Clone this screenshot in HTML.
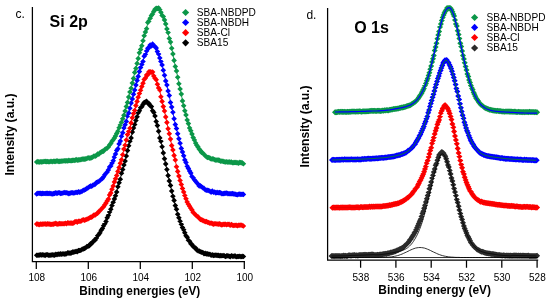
<!DOCTYPE html><html><head><meta charset="utf-8"><title>XPS Si 2p and O 1s</title><style>html,body{margin:0;padding:0;background:#fff}svg{display:block}</style></head><body><svg width="550" height="300" viewBox="0 0 550 300">
<rect width="550" height="300" fill="#fff"/>
<g font-family='"Liberation Sans", Arial, Helvetica, sans-serif' fill="#000">
<path fill="#000000" d="M36.7 252.4l2.8 2.8l-2.8 2.8l-2.8 -2.8zM37.9 252.5l2.8 2.8l-2.8 2.8l-2.8 -2.8zM39.1 252.3l2.8 2.8l-2.8 2.8l-2.8 -2.8zM40.3 252.0l2.8 2.8l-2.8 2.8l-2.8 -2.8zM41.5 252.2l2.8 2.8l-2.8 2.8l-2.8 -2.8zM42.7 252.0l2.8 2.8l-2.8 2.8l-2.8 -2.8zM43.9 252.2l2.8 2.8l-2.8 2.8l-2.8 -2.8zM45.1 252.6l2.8 2.8l-2.8 2.8l-2.8 -2.8zM46.2 252.0l2.8 2.8l-2.8 2.8l-2.8 -2.8zM47.4 252.0l2.8 2.8l-2.8 2.8l-2.8 -2.8zM48.6 252.4l2.8 2.8l-2.8 2.8l-2.8 -2.8zM49.8 252.4l2.8 2.8l-2.8 2.8l-2.8 -2.8zM51.0 252.3l2.8 2.8l-2.8 2.8l-2.8 -2.8zM52.2 251.9l2.8 2.8l-2.8 2.8l-2.8 -2.8zM53.4 252.2l2.8 2.8l-2.8 2.8l-2.8 -2.8zM54.6 252.3l2.8 2.8l-2.8 2.8l-2.8 -2.8zM55.8 251.6l2.8 2.8l-2.8 2.8l-2.8 -2.8zM57.0 251.8l2.8 2.8l-2.8 2.8l-2.8 -2.8zM58.2 251.3l2.8 2.8l-2.8 2.8l-2.8 -2.8zM59.4 251.4l2.8 2.8l-2.8 2.8l-2.8 -2.8zM60.6 251.1l2.8 2.8l-2.8 2.8l-2.8 -2.8zM61.8 251.5l2.8 2.8l-2.8 2.8l-2.8 -2.8zM63.0 251.0l2.8 2.8l-2.8 2.8l-2.8 -2.8zM64.2 251.3l2.8 2.8l-2.8 2.8l-2.8 -2.8zM65.4 251.1l2.8 2.8l-2.8 2.8l-2.8 -2.8zM66.6 250.9l2.8 2.8l-2.8 2.8l-2.8 -2.8zM67.8 249.9l2.8 2.8l-2.8 2.8l-2.8 -2.8zM68.9 250.3l2.8 2.8l-2.8 2.8l-2.8 -2.8zM70.1 250.3l2.8 2.8l-2.8 2.8l-2.8 -2.8zM71.3 250.1l2.8 2.8l-2.8 2.8l-2.8 -2.8zM72.5 249.3l2.8 2.8l-2.8 2.8l-2.8 -2.8zM73.7 249.3l2.8 2.8l-2.8 2.8l-2.8 -2.8zM74.9 248.9l2.8 2.8l-2.8 2.8l-2.8 -2.8zM76.1 248.6l2.8 2.8l-2.8 2.8l-2.8 -2.8zM77.3 248.8l2.8 2.8l-2.8 2.8l-2.8 -2.8zM78.5 247.8l2.8 2.8l-2.8 2.8l-2.8 -2.8zM79.7 247.7l2.8 2.8l-2.8 2.8l-2.8 -2.8zM80.9 247.5l2.8 2.8l-2.8 2.8l-2.8 -2.8zM82.1 246.5l2.8 2.8l-2.8 2.8l-2.8 -2.8zM83.3 246.1l2.8 2.8l-2.8 2.8l-2.8 -2.8zM84.5 245.6l2.8 2.8l-2.8 2.8l-2.8 -2.8zM85.7 244.9l2.8 2.8l-2.8 2.8l-2.8 -2.8zM86.9 243.8l2.8 2.8l-2.8 2.8l-2.8 -2.8zM88.1 243.4l2.8 2.8l-2.8 2.8l-2.8 -2.8zM89.3 243.0l2.8 2.8l-2.8 2.8l-2.8 -2.8zM90.5 241.0l2.8 2.8l-2.8 2.8l-2.8 -2.8zM91.7 240.7l2.8 2.8l-2.8 2.8l-2.8 -2.8zM92.8 239.3l2.8 2.8l-2.8 2.8l-2.8 -2.8zM94.0 237.7l2.8 2.8l-2.8 2.8l-2.8 -2.8zM95.2 237.2l2.8 2.8l-2.8 2.8l-2.8 -2.8zM96.4 235.3l2.8 2.8l-2.8 2.8l-2.8 -2.8zM97.6 232.9l2.8 2.8l-2.8 2.8l-2.8 -2.8zM98.8 231.6l2.8 2.8l-2.8 2.8l-2.8 -2.8zM100.0 229.9l2.8 2.8l-2.8 2.8l-2.8 -2.8zM101.2 227.5l2.8 2.8l-2.8 2.8l-2.8 -2.8zM102.4 225.7l2.8 2.8l-2.8 2.8l-2.8 -2.8zM103.6 223.0l2.8 2.8l-2.8 2.8l-2.8 -2.8zM104.8 220.9l2.8 2.8l-2.8 2.8l-2.8 -2.8zM106.0 218.6l2.8 2.8l-2.8 2.8l-2.8 -2.8zM107.2 215.0l2.8 2.8l-2.8 2.8l-2.8 -2.8zM108.4 212.5l2.8 2.8l-2.8 2.8l-2.8 -2.8zM109.6 209.2l2.8 2.8l-2.8 2.8l-2.8 -2.8zM110.8 206.4l2.8 2.8l-2.8 2.8l-2.8 -2.8zM112.0 202.6l2.8 2.8l-2.8 2.8l-2.8 -2.8zM113.2 199.5l2.8 2.8l-2.8 2.8l-2.8 -2.8zM114.4 196.1l2.8 2.8l-2.8 2.8l-2.8 -2.8zM115.5 193.0l2.8 2.8l-2.8 2.8l-2.8 -2.8zM116.7 189.2l2.8 2.8l-2.8 2.8l-2.8 -2.8zM117.9 183.9l2.8 2.8l-2.8 2.8l-2.8 -2.8zM119.1 180.0l2.8 2.8l-2.8 2.8l-2.8 -2.8zM120.3 176.4l2.8 2.8l-2.8 2.8l-2.8 -2.8zM121.5 170.4l2.8 2.8l-2.8 2.8l-2.8 -2.8zM122.7 166.7l2.8 2.8l-2.8 2.8l-2.8 -2.8zM123.9 162.2l2.8 2.8l-2.8 2.8l-2.8 -2.8zM125.1 158.3l2.8 2.8l-2.8 2.8l-2.8 -2.8zM126.3 153.2l2.8 2.8l-2.8 2.8l-2.8 -2.8zM127.5 147.8l2.8 2.8l-2.8 2.8l-2.8 -2.8zM128.7 143.0l2.8 2.8l-2.8 2.8l-2.8 -2.8zM129.9 138.4l2.8 2.8l-2.8 2.8l-2.8 -2.8zM131.1 135.1l2.8 2.8l-2.8 2.8l-2.8 -2.8zM132.3 129.3l2.8 2.8l-2.8 2.8l-2.8 -2.8zM133.5 125.2l2.8 2.8l-2.8 2.8l-2.8 -2.8zM134.7 121.7l2.8 2.8l-2.8 2.8l-2.8 -2.8zM135.9 117.6l2.8 2.8l-2.8 2.8l-2.8 -2.8zM137.1 114.0l2.8 2.8l-2.8 2.8l-2.8 -2.8zM138.2 110.0l2.8 2.8l-2.8 2.8l-2.8 -2.8zM139.4 107.9l2.8 2.8l-2.8 2.8l-2.8 -2.8zM140.6 104.9l2.8 2.8l-2.8 2.8l-2.8 -2.8zM141.8 103.9l2.8 2.8l-2.8 2.8l-2.8 -2.8zM143.0 101.6l2.8 2.8l-2.8 2.8l-2.8 -2.8zM144.2 99.8l2.8 2.8l-2.8 2.8l-2.8 -2.8zM145.4 99.3l2.8 2.8l-2.8 2.8l-2.8 -2.8zM146.6 98.6l2.8 2.8l-2.8 2.8l-2.8 -2.8zM147.8 100.4l2.8 2.8l-2.8 2.8l-2.8 -2.8zM149.0 100.7l2.8 2.8l-2.8 2.8l-2.8 -2.8zM150.2 102.9l2.8 2.8l-2.8 2.8l-2.8 -2.8zM151.4 103.8l2.8 2.8l-2.8 2.8l-2.8 -2.8zM152.6 107.9l2.8 2.8l-2.8 2.8l-2.8 -2.8zM153.8 109.6l2.8 2.8l-2.8 2.8l-2.8 -2.8zM155.0 113.2l2.8 2.8l-2.8 2.8l-2.8 -2.8zM156.2 118.7l2.8 2.8l-2.8 2.8l-2.8 -2.8zM157.4 122.8l2.8 2.8l-2.8 2.8l-2.8 -2.8zM158.6 128.5l2.8 2.8l-2.8 2.8l-2.8 -2.8zM159.8 135.1l2.8 2.8l-2.8 2.8l-2.8 -2.8zM160.9 138.4l2.8 2.8l-2.8 2.8l-2.8 -2.8zM162.1 144.0l2.8 2.8l-2.8 2.8l-2.8 -2.8zM163.3 150.1l2.8 2.8l-2.8 2.8l-2.8 -2.8zM164.5 155.9l2.8 2.8l-2.8 2.8l-2.8 -2.8zM165.7 161.1l2.8 2.8l-2.8 2.8l-2.8 -2.8zM166.9 166.7l2.8 2.8l-2.8 2.8l-2.8 -2.8zM168.1 172.8l2.8 2.8l-2.8 2.8l-2.8 -2.8zM169.3 178.1l2.8 2.8l-2.8 2.8l-2.8 -2.8zM170.5 182.6l2.8 2.8l-2.8 2.8l-2.8 -2.8zM171.7 188.3l2.8 2.8l-2.8 2.8l-2.8 -2.8zM172.9 193.4l2.8 2.8l-2.8 2.8l-2.8 -2.8zM174.1 197.6l2.8 2.8l-2.8 2.8l-2.8 -2.8zM175.3 202.8l2.8 2.8l-2.8 2.8l-2.8 -2.8zM176.5 206.5l2.8 2.8l-2.8 2.8l-2.8 -2.8zM177.7 211.4l2.8 2.8l-2.8 2.8l-2.8 -2.8zM178.9 214.9l2.8 2.8l-2.8 2.8l-2.8 -2.8zM180.1 218.4l2.8 2.8l-2.8 2.8l-2.8 -2.8zM181.3 221.5l2.8 2.8l-2.8 2.8l-2.8 -2.8zM182.5 224.8l2.8 2.8l-2.8 2.8l-2.8 -2.8zM183.7 227.0l2.8 2.8l-2.8 2.8l-2.8 -2.8zM184.8 230.0l2.8 2.8l-2.8 2.8l-2.8 -2.8zM186.0 233.0l2.8 2.8l-2.8 2.8l-2.8 -2.8zM187.2 234.4l2.8 2.8l-2.8 2.8l-2.8 -2.8zM188.4 237.4l2.8 2.8l-2.8 2.8l-2.8 -2.8zM189.6 238.4l2.8 2.8l-2.8 2.8l-2.8 -2.8zM190.8 240.9l2.8 2.8l-2.8 2.8l-2.8 -2.8zM192.0 241.8l2.8 2.8l-2.8 2.8l-2.8 -2.8zM193.2 243.7l2.8 2.8l-2.8 2.8l-2.8 -2.8zM194.4 244.7l2.8 2.8l-2.8 2.8l-2.8 -2.8zM195.6 245.2l2.8 2.8l-2.8 2.8l-2.8 -2.8zM196.8 247.1l2.8 2.8l-2.8 2.8l-2.8 -2.8zM198.0 248.0l2.8 2.8l-2.8 2.8l-2.8 -2.8zM199.2 248.3l2.8 2.8l-2.8 2.8l-2.8 -2.8zM200.4 248.9l2.8 2.8l-2.8 2.8l-2.8 -2.8zM201.6 249.5l2.8 2.8l-2.8 2.8l-2.8 -2.8zM202.8 249.7l2.8 2.8l-2.8 2.8l-2.8 -2.8zM204.0 250.8l2.8 2.8l-2.8 2.8l-2.8 -2.8zM205.2 250.6l2.8 2.8l-2.8 2.8l-2.8 -2.8zM206.4 251.1l2.8 2.8l-2.8 2.8l-2.8 -2.8zM207.5 251.1l2.8 2.8l-2.8 2.8l-2.8 -2.8zM208.7 251.4l2.8 2.8l-2.8 2.8l-2.8 -2.8zM209.9 251.4l2.8 2.8l-2.8 2.8l-2.8 -2.8zM211.1 252.4l2.8 2.8l-2.8 2.8l-2.8 -2.8zM212.3 252.1l2.8 2.8l-2.8 2.8l-2.8 -2.8zM213.5 252.6l2.8 2.8l-2.8 2.8l-2.8 -2.8zM214.7 252.4l2.8 2.8l-2.8 2.8l-2.8 -2.8zM215.9 252.3l2.8 2.8l-2.8 2.8l-2.8 -2.8zM217.1 252.6l2.8 2.8l-2.8 2.8l-2.8 -2.8zM218.3 252.6l2.8 2.8l-2.8 2.8l-2.8 -2.8zM219.5 252.9l2.8 2.8l-2.8 2.8l-2.8 -2.8zM220.7 252.8l2.8 2.8l-2.8 2.8l-2.8 -2.8zM221.9 252.9l2.8 2.8l-2.8 2.8l-2.8 -2.8zM223.1 252.7l2.8 2.8l-2.8 2.8l-2.8 -2.8zM224.3 252.9l2.8 2.8l-2.8 2.8l-2.8 -2.8zM225.5 253.7l2.8 2.8l-2.8 2.8l-2.8 -2.8zM226.7 253.1l2.8 2.8l-2.8 2.8l-2.8 -2.8zM227.9 253.0l2.8 2.8l-2.8 2.8l-2.8 -2.8zM229.1 253.5l2.8 2.8l-2.8 2.8l-2.8 -2.8zM230.2 253.9l2.8 2.8l-2.8 2.8l-2.8 -2.8zM231.4 253.0l2.8 2.8l-2.8 2.8l-2.8 -2.8zM232.6 253.5l2.8 2.8l-2.8 2.8l-2.8 -2.8zM233.8 253.4l2.8 2.8l-2.8 2.8l-2.8 -2.8zM235.0 253.1l2.8 2.8l-2.8 2.8l-2.8 -2.8zM236.2 253.9l2.8 2.8l-2.8 2.8l-2.8 -2.8zM237.4 253.7l2.8 2.8l-2.8 2.8l-2.8 -2.8zM238.6 253.7l2.8 2.8l-2.8 2.8l-2.8 -2.8zM239.8 253.5l2.8 2.8l-2.8 2.8l-2.8 -2.8zM241.0 253.9l2.8 2.8l-2.8 2.8l-2.8 -2.8zM242.2 253.6l2.8 2.8l-2.8 2.8l-2.8 -2.8zM243.4 253.7l2.8 2.8l-2.8 2.8l-2.8 -2.8z"/>
<path fill="none" stroke="#000000" stroke-width="0.9" stroke-linejoin="round" d="M36.7 255.2L37.9 255.3L39.1 255.1L40.3 254.8L41.5 255.0L42.7 254.8L43.9 255.0L45.1 255.4L46.2 254.8L47.4 254.8L48.6 255.2L49.8 255.2L51.0 255.1L52.2 254.7L53.4 255.0L54.6 255.1L55.8 254.4L57.0 254.6L58.2 254.1L59.4 254.2L60.6 253.9L61.8 254.3L63.0 253.8L64.2 254.1L65.4 253.9L66.6 253.7L67.8 252.7L68.9 253.1L70.1 253.1L71.3 252.9L72.5 252.1L73.7 252.1L74.9 251.7L76.1 251.4L77.3 251.6L78.5 250.6L79.7 250.5L80.9 250.3L82.1 249.3L83.3 248.9L84.5 248.4L85.7 247.7L86.9 246.6L88.1 246.2L89.3 245.8L90.5 243.8L91.7 243.5L92.8 242.1L94.0 240.5L95.2 240.0L96.4 238.1L97.6 235.7L98.8 234.4L100.0 232.7L101.2 230.3L102.4 228.5L103.6 225.8L104.8 223.7L106.0 221.4L107.2 217.8L108.4 215.3L109.6 212.0L110.8 209.2L112.0 205.4L113.2 202.3L114.4 198.9L115.5 195.8L116.7 192.0L117.9 186.7L119.1 182.8L120.3 179.2L121.5 173.2L122.7 169.5L123.9 165.0L125.1 161.1L126.3 156.0L127.5 150.6L128.7 145.8L129.9 141.2L131.1 137.9L132.3 132.1L133.5 128.0L134.7 124.5L135.9 120.4L137.1 116.8L138.2 112.8L139.4 110.7L140.6 107.7L141.8 106.7L143.0 104.4L144.2 102.6L145.4 102.1L146.6 101.4L147.8 103.2L149.0 103.5L150.2 105.7L151.4 106.6L152.6 110.7L153.8 112.4L155.0 116.0L156.2 121.5L157.4 125.6L158.6 131.3L159.8 137.9L160.9 141.2L162.1 146.8L163.3 152.9L164.5 158.7L165.7 163.9L166.9 169.5L168.1 175.6L169.3 180.9L170.5 185.4L171.7 191.1L172.9 196.2L174.1 200.4L175.3 205.6L176.5 209.3L177.7 214.2L178.9 217.7L180.1 221.2L181.3 224.3L182.5 227.6L183.7 229.8L184.8 232.8L186.0 235.8L187.2 237.2L188.4 240.2L189.6 241.2L190.8 243.7L192.0 244.6L193.2 246.5L194.4 247.5L195.6 248.0L196.8 249.9L198.0 250.8L199.2 251.1L200.4 251.7L201.6 252.3L202.8 252.5L204.0 253.6L205.2 253.4L206.4 253.9L207.5 253.9L208.7 254.2L209.9 254.2L211.1 255.2L212.3 254.9L213.5 255.4L214.7 255.2L215.9 255.1L217.1 255.4L218.3 255.4L219.5 255.7L220.7 255.6L221.9 255.7L223.1 255.5L224.3 255.7L225.5 256.5L226.7 255.9L227.9 255.8L229.1 256.3L230.2 256.7L231.4 255.8L232.6 256.3L233.8 256.2L235.0 255.9L236.2 256.7L237.4 256.5L238.6 256.5L239.8 256.3L241.0 256.7L242.2 256.4L243.4 256.5"/>
<path fill="#ff0000" d="M36.7 221.3l2.8 2.8l-2.8 2.8l-2.8 -2.8zM37.9 221.2l2.8 2.8l-2.8 2.8l-2.8 -2.8zM39.1 221.9l2.8 2.8l-2.8 2.8l-2.8 -2.8zM40.3 221.3l2.8 2.8l-2.8 2.8l-2.8 -2.8zM41.5 221.5l2.8 2.8l-2.8 2.8l-2.8 -2.8zM42.7 221.3l2.8 2.8l-2.8 2.8l-2.8 -2.8zM43.9 221.2l2.8 2.8l-2.8 2.8l-2.8 -2.8zM45.1 221.1l2.8 2.8l-2.8 2.8l-2.8 -2.8zM46.2 221.4l2.8 2.8l-2.8 2.8l-2.8 -2.8zM47.4 221.1l2.8 2.8l-2.8 2.8l-2.8 -2.8zM48.6 221.2l2.8 2.8l-2.8 2.8l-2.8 -2.8zM49.8 221.3l2.8 2.8l-2.8 2.8l-2.8 -2.8zM51.0 221.6l2.8 2.8l-2.8 2.8l-2.8 -2.8zM52.2 221.4l2.8 2.8l-2.8 2.8l-2.8 -2.8zM53.4 221.3l2.8 2.8l-2.8 2.8l-2.8 -2.8zM54.6 220.9l2.8 2.8l-2.8 2.8l-2.8 -2.8zM55.8 220.6l2.8 2.8l-2.8 2.8l-2.8 -2.8zM57.0 221.3l2.8 2.8l-2.8 2.8l-2.8 -2.8zM58.2 221.2l2.8 2.8l-2.8 2.8l-2.8 -2.8zM59.4 220.8l2.8 2.8l-2.8 2.8l-2.8 -2.8zM60.6 220.9l2.8 2.8l-2.8 2.8l-2.8 -2.8zM61.8 221.0l2.8 2.8l-2.8 2.8l-2.8 -2.8zM63.0 220.9l2.8 2.8l-2.8 2.8l-2.8 -2.8zM64.2 220.9l2.8 2.8l-2.8 2.8l-2.8 -2.8zM65.4 220.4l2.8 2.8l-2.8 2.8l-2.8 -2.8zM66.6 220.9l2.8 2.8l-2.8 2.8l-2.8 -2.8zM67.8 220.0l2.8 2.8l-2.8 2.8l-2.8 -2.8zM68.9 220.5l2.8 2.8l-2.8 2.8l-2.8 -2.8zM70.1 220.3l2.8 2.8l-2.8 2.8l-2.8 -2.8zM71.3 220.3l2.8 2.8l-2.8 2.8l-2.8 -2.8zM72.5 220.4l2.8 2.8l-2.8 2.8l-2.8 -2.8zM73.7 220.1l2.8 2.8l-2.8 2.8l-2.8 -2.8zM74.9 219.1l2.8 2.8l-2.8 2.8l-2.8 -2.8zM76.1 218.7l2.8 2.8l-2.8 2.8l-2.8 -2.8zM77.3 219.3l2.8 2.8l-2.8 2.8l-2.8 -2.8zM78.5 218.5l2.8 2.8l-2.8 2.8l-2.8 -2.8zM79.7 218.5l2.8 2.8l-2.8 2.8l-2.8 -2.8zM80.9 218.5l2.8 2.8l-2.8 2.8l-2.8 -2.8zM82.1 217.5l2.8 2.8l-2.8 2.8l-2.8 -2.8zM83.3 217.0l2.8 2.8l-2.8 2.8l-2.8 -2.8zM84.5 217.4l2.8 2.8l-2.8 2.8l-2.8 -2.8zM85.7 216.9l2.8 2.8l-2.8 2.8l-2.8 -2.8zM86.9 216.4l2.8 2.8l-2.8 2.8l-2.8 -2.8zM88.1 216.0l2.8 2.8l-2.8 2.8l-2.8 -2.8zM89.3 215.2l2.8 2.8l-2.8 2.8l-2.8 -2.8zM90.5 214.4l2.8 2.8l-2.8 2.8l-2.8 -2.8zM91.7 214.3l2.8 2.8l-2.8 2.8l-2.8 -2.8zM92.8 213.3l2.8 2.8l-2.8 2.8l-2.8 -2.8zM94.0 212.3l2.8 2.8l-2.8 2.8l-2.8 -2.8zM95.2 212.2l2.8 2.8l-2.8 2.8l-2.8 -2.8zM96.4 211.2l2.8 2.8l-2.8 2.8l-2.8 -2.8zM97.6 210.4l2.8 2.8l-2.8 2.8l-2.8 -2.8zM98.8 208.8l2.8 2.8l-2.8 2.8l-2.8 -2.8zM100.0 207.8l2.8 2.8l-2.8 2.8l-2.8 -2.8zM101.2 206.4l2.8 2.8l-2.8 2.8l-2.8 -2.8zM102.4 205.1l2.8 2.8l-2.8 2.8l-2.8 -2.8zM103.6 204.0l2.8 2.8l-2.8 2.8l-2.8 -2.8zM104.8 201.9l2.8 2.8l-2.8 2.8l-2.8 -2.8zM106.0 200.3l2.8 2.8l-2.8 2.8l-2.8 -2.8zM107.2 198.1l2.8 2.8l-2.8 2.8l-2.8 -2.8zM108.4 196.3l2.8 2.8l-2.8 2.8l-2.8 -2.8zM109.6 192.1l2.8 2.8l-2.8 2.8l-2.8 -2.8zM110.8 190.1l2.8 2.8l-2.8 2.8l-2.8 -2.8zM112.0 186.5l2.8 2.8l-2.8 2.8l-2.8 -2.8zM113.2 183.2l2.8 2.8l-2.8 2.8l-2.8 -2.8zM114.4 179.1l2.8 2.8l-2.8 2.8l-2.8 -2.8zM115.5 175.9l2.8 2.8l-2.8 2.8l-2.8 -2.8zM116.7 172.8l2.8 2.8l-2.8 2.8l-2.8 -2.8zM117.9 168.6l2.8 2.8l-2.8 2.8l-2.8 -2.8zM119.1 164.8l2.8 2.8l-2.8 2.8l-2.8 -2.8zM120.3 160.5l2.8 2.8l-2.8 2.8l-2.8 -2.8zM121.5 157.0l2.8 2.8l-2.8 2.8l-2.8 -2.8zM122.7 152.0l2.8 2.8l-2.8 2.8l-2.8 -2.8zM123.9 146.3l2.8 2.8l-2.8 2.8l-2.8 -2.8zM125.1 142.5l2.8 2.8l-2.8 2.8l-2.8 -2.8zM126.3 137.2l2.8 2.8l-2.8 2.8l-2.8 -2.8zM127.5 131.8l2.8 2.8l-2.8 2.8l-2.8 -2.8zM128.7 128.8l2.8 2.8l-2.8 2.8l-2.8 -2.8zM129.9 125.4l2.8 2.8l-2.8 2.8l-2.8 -2.8zM131.1 120.1l2.8 2.8l-2.8 2.8l-2.8 -2.8zM132.3 114.9l2.8 2.8l-2.8 2.8l-2.8 -2.8zM133.5 110.7l2.8 2.8l-2.8 2.8l-2.8 -2.8zM134.7 107.7l2.8 2.8l-2.8 2.8l-2.8 -2.8zM135.9 102.8l2.8 2.8l-2.8 2.8l-2.8 -2.8zM137.1 98.6l2.8 2.8l-2.8 2.8l-2.8 -2.8zM138.2 94.5l2.8 2.8l-2.8 2.8l-2.8 -2.8zM139.4 90.6l2.8 2.8l-2.8 2.8l-2.8 -2.8zM140.6 87.5l2.8 2.8l-2.8 2.8l-2.8 -2.8zM141.8 83.8l2.8 2.8l-2.8 2.8l-2.8 -2.8zM143.0 80.4l2.8 2.8l-2.8 2.8l-2.8 -2.8zM144.2 76.6l2.8 2.8l-2.8 2.8l-2.8 -2.8zM145.4 75.3l2.8 2.8l-2.8 2.8l-2.8 -2.8zM146.6 72.2l2.8 2.8l-2.8 2.8l-2.8 -2.8zM147.8 72.0l2.8 2.8l-2.8 2.8l-2.8 -2.8zM149.0 68.9l2.8 2.8l-2.8 2.8l-2.8 -2.8zM150.2 69.0l2.8 2.8l-2.8 2.8l-2.8 -2.8zM151.4 69.5l2.8 2.8l-2.8 2.8l-2.8 -2.8zM152.6 69.2l2.8 2.8l-2.8 2.8l-2.8 -2.8zM153.8 73.3l2.8 2.8l-2.8 2.8l-2.8 -2.8zM155.0 75.5l2.8 2.8l-2.8 2.8l-2.8 -2.8zM156.2 77.0l2.8 2.8l-2.8 2.8l-2.8 -2.8zM157.4 81.4l2.8 2.8l-2.8 2.8l-2.8 -2.8zM158.6 85.1l2.8 2.8l-2.8 2.8l-2.8 -2.8zM159.8 87.2l2.8 2.8l-2.8 2.8l-2.8 -2.8zM160.9 94.0l2.8 2.8l-2.8 2.8l-2.8 -2.8zM162.1 98.6l2.8 2.8l-2.8 2.8l-2.8 -2.8zM163.3 103.8l2.8 2.8l-2.8 2.8l-2.8 -2.8zM164.5 108.2l2.8 2.8l-2.8 2.8l-2.8 -2.8zM165.7 114.1l2.8 2.8l-2.8 2.8l-2.8 -2.8zM166.9 119.6l2.8 2.8l-2.8 2.8l-2.8 -2.8zM168.1 125.9l2.8 2.8l-2.8 2.8l-2.8 -2.8zM169.3 131.0l2.8 2.8l-2.8 2.8l-2.8 -2.8zM170.5 136.3l2.8 2.8l-2.8 2.8l-2.8 -2.8zM171.7 142.8l2.8 2.8l-2.8 2.8l-2.8 -2.8zM172.9 147.1l2.8 2.8l-2.8 2.8l-2.8 -2.8zM174.1 152.6l2.8 2.8l-2.8 2.8l-2.8 -2.8zM175.3 157.2l2.8 2.8l-2.8 2.8l-2.8 -2.8zM176.5 164.0l2.8 2.8l-2.8 2.8l-2.8 -2.8zM177.7 168.6l2.8 2.8l-2.8 2.8l-2.8 -2.8zM178.9 173.3l2.8 2.8l-2.8 2.8l-2.8 -2.8zM180.1 177.7l2.8 2.8l-2.8 2.8l-2.8 -2.8zM181.3 181.7l2.8 2.8l-2.8 2.8l-2.8 -2.8zM182.5 185.7l2.8 2.8l-2.8 2.8l-2.8 -2.8zM183.7 189.2l2.8 2.8l-2.8 2.8l-2.8 -2.8zM184.8 192.7l2.8 2.8l-2.8 2.8l-2.8 -2.8zM186.0 195.9l2.8 2.8l-2.8 2.8l-2.8 -2.8zM187.2 199.3l2.8 2.8l-2.8 2.8l-2.8 -2.8zM188.4 201.4l2.8 2.8l-2.8 2.8l-2.8 -2.8zM189.6 203.5l2.8 2.8l-2.8 2.8l-2.8 -2.8zM190.8 205.4l2.8 2.8l-2.8 2.8l-2.8 -2.8zM192.0 207.2l2.8 2.8l-2.8 2.8l-2.8 -2.8zM193.2 209.7l2.8 2.8l-2.8 2.8l-2.8 -2.8zM194.4 210.8l2.8 2.8l-2.8 2.8l-2.8 -2.8zM195.6 212.1l2.8 2.8l-2.8 2.8l-2.8 -2.8zM196.8 213.2l2.8 2.8l-2.8 2.8l-2.8 -2.8zM198.0 214.0l2.8 2.8l-2.8 2.8l-2.8 -2.8zM199.2 215.4l2.8 2.8l-2.8 2.8l-2.8 -2.8zM200.4 216.6l2.8 2.8l-2.8 2.8l-2.8 -2.8zM201.6 216.9l2.8 2.8l-2.8 2.8l-2.8 -2.8zM202.8 217.6l2.8 2.8l-2.8 2.8l-2.8 -2.8zM204.0 218.2l2.8 2.8l-2.8 2.8l-2.8 -2.8zM205.2 218.8l2.8 2.8l-2.8 2.8l-2.8 -2.8zM206.4 218.7l2.8 2.8l-2.8 2.8l-2.8 -2.8zM207.5 219.5l2.8 2.8l-2.8 2.8l-2.8 -2.8zM208.7 219.7l2.8 2.8l-2.8 2.8l-2.8 -2.8zM209.9 220.5l2.8 2.8l-2.8 2.8l-2.8 -2.8zM211.1 220.2l2.8 2.8l-2.8 2.8l-2.8 -2.8zM212.3 220.8l2.8 2.8l-2.8 2.8l-2.8 -2.8zM213.5 221.3l2.8 2.8l-2.8 2.8l-2.8 -2.8zM214.7 220.9l2.8 2.8l-2.8 2.8l-2.8 -2.8zM215.9 220.9l2.8 2.8l-2.8 2.8l-2.8 -2.8zM217.1 221.2l2.8 2.8l-2.8 2.8l-2.8 -2.8zM218.3 221.3l2.8 2.8l-2.8 2.8l-2.8 -2.8zM219.5 221.1l2.8 2.8l-2.8 2.8l-2.8 -2.8zM220.7 221.6l2.8 2.8l-2.8 2.8l-2.8 -2.8zM221.9 222.1l2.8 2.8l-2.8 2.8l-2.8 -2.8zM223.1 221.5l2.8 2.8l-2.8 2.8l-2.8 -2.8zM224.3 221.6l2.8 2.8l-2.8 2.8l-2.8 -2.8zM225.5 221.4l2.8 2.8l-2.8 2.8l-2.8 -2.8zM226.7 221.9l2.8 2.8l-2.8 2.8l-2.8 -2.8zM227.9 221.5l2.8 2.8l-2.8 2.8l-2.8 -2.8zM229.1 221.6l2.8 2.8l-2.8 2.8l-2.8 -2.8zM230.2 222.4l2.8 2.8l-2.8 2.8l-2.8 -2.8zM231.4 221.8l2.8 2.8l-2.8 2.8l-2.8 -2.8zM232.6 222.5l2.8 2.8l-2.8 2.8l-2.8 -2.8zM233.8 222.7l2.8 2.8l-2.8 2.8l-2.8 -2.8zM235.0 222.4l2.8 2.8l-2.8 2.8l-2.8 -2.8zM236.2 222.5l2.8 2.8l-2.8 2.8l-2.8 -2.8zM237.4 223.0l2.8 2.8l-2.8 2.8l-2.8 -2.8zM238.6 222.4l2.8 2.8l-2.8 2.8l-2.8 -2.8zM239.8 222.4l2.8 2.8l-2.8 2.8l-2.8 -2.8zM241.0 222.2l2.8 2.8l-2.8 2.8l-2.8 -2.8zM242.2 222.7l2.8 2.8l-2.8 2.8l-2.8 -2.8zM243.4 223.2l2.8 2.8l-2.8 2.8l-2.8 -2.8z"/>
<path fill="none" stroke="#ff0000" stroke-width="0.9" stroke-linejoin="round" d="M36.7 224.1L37.9 224.0L39.1 224.7L40.3 224.1L41.5 224.3L42.7 224.1L43.9 224.0L45.1 223.9L46.2 224.2L47.4 223.9L48.6 224.0L49.8 224.1L51.0 224.4L52.2 224.2L53.4 224.1L54.6 223.7L55.8 223.4L57.0 224.1L58.2 224.0L59.4 223.6L60.6 223.7L61.8 223.8L63.0 223.7L64.2 223.7L65.4 223.2L66.6 223.7L67.8 222.8L68.9 223.3L70.1 223.1L71.3 223.1L72.5 223.2L73.7 222.9L74.9 221.9L76.1 221.5L77.3 222.1L78.5 221.3L79.7 221.3L80.9 221.3L82.1 220.3L83.3 219.8L84.5 220.2L85.7 219.7L86.9 219.2L88.1 218.8L89.3 218.0L90.5 217.2L91.7 217.1L92.8 216.1L94.0 215.1L95.2 215.0L96.4 214.0L97.6 213.2L98.8 211.6L100.0 210.6L101.2 209.2L102.4 207.9L103.6 206.8L104.8 204.7L106.0 203.1L107.2 200.9L108.4 199.1L109.6 194.9L110.8 192.9L112.0 189.3L113.2 186.0L114.4 181.9L115.5 178.7L116.7 175.6L117.9 171.4L119.1 167.6L120.3 163.3L121.5 159.8L122.7 154.8L123.9 149.1L125.1 145.3L126.3 140.0L127.5 134.6L128.7 131.6L129.9 128.2L131.1 122.9L132.3 117.7L133.5 113.5L134.7 110.5L135.9 105.6L137.1 101.4L138.2 97.3L139.4 93.4L140.6 90.3L141.8 86.6L143.0 83.2L144.2 79.4L145.4 78.1L146.6 75.0L147.8 74.8L149.0 71.7L150.2 71.8L151.4 72.3L152.6 72.0L153.8 76.1L155.0 78.3L156.2 79.8L157.4 84.2L158.6 87.9L159.8 90.0L160.9 96.8L162.1 101.4L163.3 106.6L164.5 111.0L165.7 116.9L166.9 122.4L168.1 128.7L169.3 133.8L170.5 139.1L171.7 145.6L172.9 149.9L174.1 155.4L175.3 160.0L176.5 166.8L177.7 171.4L178.9 176.1L180.1 180.5L181.3 184.5L182.5 188.5L183.7 192.0L184.8 195.5L186.0 198.7L187.2 202.1L188.4 204.2L189.6 206.3L190.8 208.2L192.0 210.0L193.2 212.5L194.4 213.6L195.6 214.9L196.8 216.0L198.0 216.8L199.2 218.2L200.4 219.4L201.6 219.7L202.8 220.4L204.0 221.0L205.2 221.6L206.4 221.5L207.5 222.3L208.7 222.5L209.9 223.3L211.1 223.0L212.3 223.6L213.5 224.1L214.7 223.7L215.9 223.7L217.1 224.0L218.3 224.1L219.5 223.9L220.7 224.4L221.9 224.9L223.1 224.3L224.3 224.4L225.5 224.2L226.7 224.7L227.9 224.3L229.1 224.4L230.2 225.2L231.4 224.6L232.6 225.3L233.8 225.5L235.0 225.2L236.2 225.3L237.4 225.8L238.6 225.2L239.8 225.2L241.0 225.0L242.2 225.5L243.4 226.0"/>
<path fill="#0000ff" d="M36.7 191.1l2.8 2.8l-2.8 2.8l-2.8 -2.8zM37.9 190.5l2.8 2.8l-2.8 2.8l-2.8 -2.8zM39.1 190.5l2.8 2.8l-2.8 2.8l-2.8 -2.8zM40.3 190.6l2.8 2.8l-2.8 2.8l-2.8 -2.8zM41.5 190.8l2.8 2.8l-2.8 2.8l-2.8 -2.8zM42.7 190.6l2.8 2.8l-2.8 2.8l-2.8 -2.8zM43.9 190.7l2.8 2.8l-2.8 2.8l-2.8 -2.8zM45.1 190.7l2.8 2.8l-2.8 2.8l-2.8 -2.8zM46.2 190.6l2.8 2.8l-2.8 2.8l-2.8 -2.8zM47.4 190.6l2.8 2.8l-2.8 2.8l-2.8 -2.8zM48.6 190.7l2.8 2.8l-2.8 2.8l-2.8 -2.8zM49.8 190.6l2.8 2.8l-2.8 2.8l-2.8 -2.8zM51.0 190.8l2.8 2.8l-2.8 2.8l-2.8 -2.8zM52.2 191.2l2.8 2.8l-2.8 2.8l-2.8 -2.8zM53.4 190.8l2.8 2.8l-2.8 2.8l-2.8 -2.8zM54.6 190.6l2.8 2.8l-2.8 2.8l-2.8 -2.8zM55.8 190.0l2.8 2.8l-2.8 2.8l-2.8 -2.8zM57.0 190.6l2.8 2.8l-2.8 2.8l-2.8 -2.8zM58.2 189.9l2.8 2.8l-2.8 2.8l-2.8 -2.8zM59.4 190.0l2.8 2.8l-2.8 2.8l-2.8 -2.8zM60.6 190.6l2.8 2.8l-2.8 2.8l-2.8 -2.8zM61.8 190.5l2.8 2.8l-2.8 2.8l-2.8 -2.8zM63.0 190.2l2.8 2.8l-2.8 2.8l-2.8 -2.8zM64.2 189.7l2.8 2.8l-2.8 2.8l-2.8 -2.8zM65.4 190.0l2.8 2.8l-2.8 2.8l-2.8 -2.8zM66.6 189.9l2.8 2.8l-2.8 2.8l-2.8 -2.8zM67.8 190.3l2.8 2.8l-2.8 2.8l-2.8 -2.8zM68.9 190.8l2.8 2.8l-2.8 2.8l-2.8 -2.8zM70.1 190.3l2.8 2.8l-2.8 2.8l-2.8 -2.8zM71.3 190.0l2.8 2.8l-2.8 2.8l-2.8 -2.8zM72.5 189.9l2.8 2.8l-2.8 2.8l-2.8 -2.8zM73.7 190.2l2.8 2.8l-2.8 2.8l-2.8 -2.8zM74.9 190.0l2.8 2.8l-2.8 2.8l-2.8 -2.8zM76.1 189.5l2.8 2.8l-2.8 2.8l-2.8 -2.8zM77.3 189.7l2.8 2.8l-2.8 2.8l-2.8 -2.8zM78.5 189.0l2.8 2.8l-2.8 2.8l-2.8 -2.8zM79.7 189.4l2.8 2.8l-2.8 2.8l-2.8 -2.8zM80.9 189.0l2.8 2.8l-2.8 2.8l-2.8 -2.8zM82.1 188.5l2.8 2.8l-2.8 2.8l-2.8 -2.8zM83.3 187.5l2.8 2.8l-2.8 2.8l-2.8 -2.8zM84.5 187.2l2.8 2.8l-2.8 2.8l-2.8 -2.8zM85.7 186.4l2.8 2.8l-2.8 2.8l-2.8 -2.8zM86.9 185.6l2.8 2.8l-2.8 2.8l-2.8 -2.8zM88.1 185.0l2.8 2.8l-2.8 2.8l-2.8 -2.8zM89.3 184.0l2.8 2.8l-2.8 2.8l-2.8 -2.8zM90.5 183.3l2.8 2.8l-2.8 2.8l-2.8 -2.8zM91.7 183.4l2.8 2.8l-2.8 2.8l-2.8 -2.8zM92.8 182.5l2.8 2.8l-2.8 2.8l-2.8 -2.8zM94.0 181.9l2.8 2.8l-2.8 2.8l-2.8 -2.8zM95.2 181.5l2.8 2.8l-2.8 2.8l-2.8 -2.8zM96.4 179.8l2.8 2.8l-2.8 2.8l-2.8 -2.8zM97.6 179.2l2.8 2.8l-2.8 2.8l-2.8 -2.8zM98.8 178.7l2.8 2.8l-2.8 2.8l-2.8 -2.8zM100.0 177.7l2.8 2.8l-2.8 2.8l-2.8 -2.8zM101.2 176.4l2.8 2.8l-2.8 2.8l-2.8 -2.8zM102.4 175.6l2.8 2.8l-2.8 2.8l-2.8 -2.8zM103.6 174.0l2.8 2.8l-2.8 2.8l-2.8 -2.8zM104.8 171.9l2.8 2.8l-2.8 2.8l-2.8 -2.8zM106.0 170.4l2.8 2.8l-2.8 2.8l-2.8 -2.8zM107.2 169.2l2.8 2.8l-2.8 2.8l-2.8 -2.8zM108.4 167.1l2.8 2.8l-2.8 2.8l-2.8 -2.8zM109.6 164.1l2.8 2.8l-2.8 2.8l-2.8 -2.8zM110.8 163.1l2.8 2.8l-2.8 2.8l-2.8 -2.8zM112.0 160.3l2.8 2.8l-2.8 2.8l-2.8 -2.8zM113.2 157.9l2.8 2.8l-2.8 2.8l-2.8 -2.8zM114.4 154.3l2.8 2.8l-2.8 2.8l-2.8 -2.8zM115.5 151.3l2.8 2.8l-2.8 2.8l-2.8 -2.8zM116.7 147.6l2.8 2.8l-2.8 2.8l-2.8 -2.8zM117.9 145.9l2.8 2.8l-2.8 2.8l-2.8 -2.8zM119.1 141.1l2.8 2.8l-2.8 2.8l-2.8 -2.8zM120.3 138.3l2.8 2.8l-2.8 2.8l-2.8 -2.8zM121.5 133.4l2.8 2.8l-2.8 2.8l-2.8 -2.8zM122.7 130.0l2.8 2.8l-2.8 2.8l-2.8 -2.8zM123.9 125.2l2.8 2.8l-2.8 2.8l-2.8 -2.8zM125.1 121.9l2.8 2.8l-2.8 2.8l-2.8 -2.8zM126.3 118.6l2.8 2.8l-2.8 2.8l-2.8 -2.8zM127.5 113.2l2.8 2.8l-2.8 2.8l-2.8 -2.8zM128.7 110.3l2.8 2.8l-2.8 2.8l-2.8 -2.8zM129.9 105.5l2.8 2.8l-2.8 2.8l-2.8 -2.8zM131.1 100.3l2.8 2.8l-2.8 2.8l-2.8 -2.8zM132.3 96.1l2.8 2.8l-2.8 2.8l-2.8 -2.8zM133.5 91.5l2.8 2.8l-2.8 2.8l-2.8 -2.8zM134.7 87.2l2.8 2.8l-2.8 2.8l-2.8 -2.8zM135.9 82.3l2.8 2.8l-2.8 2.8l-2.8 -2.8zM137.1 77.6l2.8 2.8l-2.8 2.8l-2.8 -2.8zM138.2 73.6l2.8 2.8l-2.8 2.8l-2.8 -2.8zM139.4 68.8l2.8 2.8l-2.8 2.8l-2.8 -2.8zM140.6 64.6l2.8 2.8l-2.8 2.8l-2.8 -2.8zM141.8 61.6l2.8 2.8l-2.8 2.8l-2.8 -2.8zM143.0 58.7l2.8 2.8l-2.8 2.8l-2.8 -2.8zM144.2 53.4l2.8 2.8l-2.8 2.8l-2.8 -2.8zM145.4 51.5l2.8 2.8l-2.8 2.8l-2.8 -2.8zM146.6 48.2l2.8 2.8l-2.8 2.8l-2.8 -2.8zM147.8 45.5l2.8 2.8l-2.8 2.8l-2.8 -2.8zM149.0 44.9l2.8 2.8l-2.8 2.8l-2.8 -2.8zM150.2 42.3l2.8 2.8l-2.8 2.8l-2.8 -2.8zM151.4 43.1l2.8 2.8l-2.8 2.8l-2.8 -2.8zM152.6 41.3l2.8 2.8l-2.8 2.8l-2.8 -2.8zM153.8 42.9l2.8 2.8l-2.8 2.8l-2.8 -2.8zM155.0 43.8l2.8 2.8l-2.8 2.8l-2.8 -2.8zM156.2 45.3l2.8 2.8l-2.8 2.8l-2.8 -2.8zM157.4 48.8l2.8 2.8l-2.8 2.8l-2.8 -2.8zM158.6 51.2l2.8 2.8l-2.8 2.8l-2.8 -2.8zM159.8 55.2l2.8 2.8l-2.8 2.8l-2.8 -2.8zM160.9 58.6l2.8 2.8l-2.8 2.8l-2.8 -2.8zM162.1 62.1l2.8 2.8l-2.8 2.8l-2.8 -2.8zM163.3 67.4l2.8 2.8l-2.8 2.8l-2.8 -2.8zM164.5 72.4l2.8 2.8l-2.8 2.8l-2.8 -2.8zM165.7 78.1l2.8 2.8l-2.8 2.8l-2.8 -2.8zM166.9 82.2l2.8 2.8l-2.8 2.8l-2.8 -2.8zM168.1 88.2l2.8 2.8l-2.8 2.8l-2.8 -2.8zM169.3 92.7l2.8 2.8l-2.8 2.8l-2.8 -2.8zM170.5 99.7l2.8 2.8l-2.8 2.8l-2.8 -2.8zM171.7 104.3l2.8 2.8l-2.8 2.8l-2.8 -2.8zM172.9 109.4l2.8 2.8l-2.8 2.8l-2.8 -2.8zM174.1 115.9l2.8 2.8l-2.8 2.8l-2.8 -2.8zM175.3 121.8l2.8 2.8l-2.8 2.8l-2.8 -2.8zM176.5 125.7l2.8 2.8l-2.8 2.8l-2.8 -2.8zM177.7 131.0l2.8 2.8l-2.8 2.8l-2.8 -2.8zM178.9 136.0l2.8 2.8l-2.8 2.8l-2.8 -2.8zM180.1 140.5l2.8 2.8l-2.8 2.8l-2.8 -2.8zM181.3 145.6l2.8 2.8l-2.8 2.8l-2.8 -2.8zM182.5 149.1l2.8 2.8l-2.8 2.8l-2.8 -2.8zM183.7 153.0l2.8 2.8l-2.8 2.8l-2.8 -2.8zM184.8 157.1l2.8 2.8l-2.8 2.8l-2.8 -2.8zM186.0 159.8l2.8 2.8l-2.8 2.8l-2.8 -2.8zM187.2 163.4l2.8 2.8l-2.8 2.8l-2.8 -2.8zM188.4 165.6l2.8 2.8l-2.8 2.8l-2.8 -2.8zM189.6 168.1l2.8 2.8l-2.8 2.8l-2.8 -2.8zM190.8 170.3l2.8 2.8l-2.8 2.8l-2.8 -2.8zM192.0 173.8l2.8 2.8l-2.8 2.8l-2.8 -2.8zM193.2 175.0l2.8 2.8l-2.8 2.8l-2.8 -2.8zM194.4 177.0l2.8 2.8l-2.8 2.8l-2.8 -2.8zM195.6 178.5l2.8 2.8l-2.8 2.8l-2.8 -2.8zM196.8 180.0l2.8 2.8l-2.8 2.8l-2.8 -2.8zM198.0 181.3l2.8 2.8l-2.8 2.8l-2.8 -2.8zM199.2 183.1l2.8 2.8l-2.8 2.8l-2.8 -2.8zM200.4 183.1l2.8 2.8l-2.8 2.8l-2.8 -2.8zM201.6 183.9l2.8 2.8l-2.8 2.8l-2.8 -2.8zM202.8 184.9l2.8 2.8l-2.8 2.8l-2.8 -2.8zM204.0 185.6l2.8 2.8l-2.8 2.8l-2.8 -2.8zM205.2 186.9l2.8 2.8l-2.8 2.8l-2.8 -2.8zM206.4 187.5l2.8 2.8l-2.8 2.8l-2.8 -2.8zM207.5 187.4l2.8 2.8l-2.8 2.8l-2.8 -2.8zM208.7 187.7l2.8 2.8l-2.8 2.8l-2.8 -2.8zM209.9 188.4l2.8 2.8l-2.8 2.8l-2.8 -2.8zM211.1 189.3l2.8 2.8l-2.8 2.8l-2.8 -2.8zM212.3 188.3l2.8 2.8l-2.8 2.8l-2.8 -2.8zM213.5 189.5l2.8 2.8l-2.8 2.8l-2.8 -2.8zM214.7 189.2l2.8 2.8l-2.8 2.8l-2.8 -2.8zM215.9 190.1l2.8 2.8l-2.8 2.8l-2.8 -2.8zM217.1 189.6l2.8 2.8l-2.8 2.8l-2.8 -2.8zM218.3 190.0l2.8 2.8l-2.8 2.8l-2.8 -2.8zM219.5 189.8l2.8 2.8l-2.8 2.8l-2.8 -2.8zM220.7 190.1l2.8 2.8l-2.8 2.8l-2.8 -2.8zM221.9 190.9l2.8 2.8l-2.8 2.8l-2.8 -2.8zM223.1 190.8l2.8 2.8l-2.8 2.8l-2.8 -2.8zM224.3 190.6l2.8 2.8l-2.8 2.8l-2.8 -2.8zM225.5 190.5l2.8 2.8l-2.8 2.8l-2.8 -2.8zM226.7 190.3l2.8 2.8l-2.8 2.8l-2.8 -2.8zM227.9 190.8l2.8 2.8l-2.8 2.8l-2.8 -2.8zM229.1 190.9l2.8 2.8l-2.8 2.8l-2.8 -2.8zM230.2 191.0l2.8 2.8l-2.8 2.8l-2.8 -2.8zM231.4 191.0l2.8 2.8l-2.8 2.8l-2.8 -2.8zM232.6 190.8l2.8 2.8l-2.8 2.8l-2.8 -2.8zM233.8 191.2l2.8 2.8l-2.8 2.8l-2.8 -2.8zM235.0 191.3l2.8 2.8l-2.8 2.8l-2.8 -2.8zM236.2 191.7l2.8 2.8l-2.8 2.8l-2.8 -2.8zM237.4 192.0l2.8 2.8l-2.8 2.8l-2.8 -2.8zM238.6 191.4l2.8 2.8l-2.8 2.8l-2.8 -2.8zM239.8 191.3l2.8 2.8l-2.8 2.8l-2.8 -2.8zM241.0 191.6l2.8 2.8l-2.8 2.8l-2.8 -2.8zM242.2 191.5l2.8 2.8l-2.8 2.8l-2.8 -2.8zM243.4 191.6l2.8 2.8l-2.8 2.8l-2.8 -2.8z"/>
<path fill="none" stroke="#0000ff" stroke-width="0.9" stroke-linejoin="round" d="M36.7 193.9L37.9 193.3L39.1 193.3L40.3 193.4L41.5 193.6L42.7 193.4L43.9 193.5L45.1 193.5L46.2 193.4L47.4 193.4L48.6 193.5L49.8 193.4L51.0 193.6L52.2 194.0L53.4 193.6L54.6 193.4L55.8 192.8L57.0 193.4L58.2 192.7L59.4 192.8L60.6 193.4L61.8 193.3L63.0 193.0L64.2 192.5L65.4 192.8L66.6 192.7L67.8 193.1L68.9 193.6L70.1 193.1L71.3 192.8L72.5 192.7L73.7 193.0L74.9 192.8L76.1 192.3L77.3 192.5L78.5 191.8L79.7 192.2L80.9 191.8L82.1 191.3L83.3 190.3L84.5 190.0L85.7 189.2L86.9 188.4L88.1 187.8L89.3 186.8L90.5 186.1L91.7 186.2L92.8 185.3L94.0 184.7L95.2 184.3L96.4 182.6L97.6 182.0L98.8 181.5L100.0 180.5L101.2 179.2L102.4 178.4L103.6 176.8L104.8 174.7L106.0 173.2L107.2 172.0L108.4 169.9L109.6 166.9L110.8 165.9L112.0 163.1L113.2 160.7L114.4 157.1L115.5 154.1L116.7 150.4L117.9 148.7L119.1 143.9L120.3 141.1L121.5 136.2L122.7 132.8L123.9 128.0L125.1 124.7L126.3 121.4L127.5 116.0L128.7 113.1L129.9 108.3L131.1 103.1L132.3 98.9L133.5 94.3L134.7 90.0L135.9 85.1L137.1 80.4L138.2 76.4L139.4 71.6L140.6 67.4L141.8 64.4L143.0 61.5L144.2 56.2L145.4 54.3L146.6 51.0L147.8 48.3L149.0 47.7L150.2 45.1L151.4 45.9L152.6 44.1L153.8 45.7L155.0 46.6L156.2 48.1L157.4 51.6L158.6 54.0L159.8 58.0L160.9 61.4L162.1 64.9L163.3 70.2L164.5 75.2L165.7 80.9L166.9 85.0L168.1 91.0L169.3 95.5L170.5 102.5L171.7 107.1L172.9 112.2L174.1 118.7L175.3 124.6L176.5 128.5L177.7 133.8L178.9 138.8L180.1 143.3L181.3 148.4L182.5 151.9L183.7 155.8L184.8 159.9L186.0 162.6L187.2 166.2L188.4 168.4L189.6 170.9L190.8 173.1L192.0 176.6L193.2 177.8L194.4 179.8L195.6 181.3L196.8 182.8L198.0 184.1L199.2 185.9L200.4 185.9L201.6 186.7L202.8 187.7L204.0 188.4L205.2 189.7L206.4 190.3L207.5 190.2L208.7 190.5L209.9 191.2L211.1 192.1L212.3 191.1L213.5 192.3L214.7 192.0L215.9 192.9L217.1 192.4L218.3 192.8L219.5 192.6L220.7 192.9L221.9 193.7L223.1 193.6L224.3 193.4L225.5 193.3L226.7 193.1L227.9 193.6L229.1 193.7L230.2 193.8L231.4 193.8L232.6 193.6L233.8 194.0L235.0 194.1L236.2 194.5L237.4 194.8L238.6 194.2L239.8 194.1L241.0 194.4L242.2 194.3L243.4 194.4"/>
<path fill="#0b9748" d="M36.7 159.2l2.8 2.8l-2.8 2.8l-2.8 -2.8zM37.9 158.8l2.8 2.8l-2.8 2.8l-2.8 -2.8zM39.1 159.3l2.8 2.8l-2.8 2.8l-2.8 -2.8zM40.3 159.0l2.8 2.8l-2.8 2.8l-2.8 -2.8zM41.5 159.1l2.8 2.8l-2.8 2.8l-2.8 -2.8zM42.7 158.9l2.8 2.8l-2.8 2.8l-2.8 -2.8zM43.9 158.7l2.8 2.8l-2.8 2.8l-2.8 -2.8zM45.1 158.6l2.8 2.8l-2.8 2.8l-2.8 -2.8zM46.2 158.8l2.8 2.8l-2.8 2.8l-2.8 -2.8zM47.4 158.7l2.8 2.8l-2.8 2.8l-2.8 -2.8zM48.6 158.9l2.8 2.8l-2.8 2.8l-2.8 -2.8zM49.8 158.9l2.8 2.8l-2.8 2.8l-2.8 -2.8zM51.0 158.5l2.8 2.8l-2.8 2.8l-2.8 -2.8zM52.2 158.9l2.8 2.8l-2.8 2.8l-2.8 -2.8zM53.4 158.4l2.8 2.8l-2.8 2.8l-2.8 -2.8zM54.6 158.6l2.8 2.8l-2.8 2.8l-2.8 -2.8zM55.8 158.6l2.8 2.8l-2.8 2.8l-2.8 -2.8zM57.0 158.0l2.8 2.8l-2.8 2.8l-2.8 -2.8zM58.2 158.6l2.8 2.8l-2.8 2.8l-2.8 -2.8zM59.4 158.6l2.8 2.8l-2.8 2.8l-2.8 -2.8zM60.6 158.4l2.8 2.8l-2.8 2.8l-2.8 -2.8zM61.8 158.3l2.8 2.8l-2.8 2.8l-2.8 -2.8zM63.0 158.2l2.8 2.8l-2.8 2.8l-2.8 -2.8zM64.2 158.0l2.8 2.8l-2.8 2.8l-2.8 -2.8zM65.4 158.1l2.8 2.8l-2.8 2.8l-2.8 -2.8zM66.6 158.0l2.8 2.8l-2.8 2.8l-2.8 -2.8zM67.8 158.1l2.8 2.8l-2.8 2.8l-2.8 -2.8zM68.9 157.6l2.8 2.8l-2.8 2.8l-2.8 -2.8zM70.1 157.9l2.8 2.8l-2.8 2.8l-2.8 -2.8zM71.3 157.8l2.8 2.8l-2.8 2.8l-2.8 -2.8zM72.5 157.6l2.8 2.8l-2.8 2.8l-2.8 -2.8zM73.7 157.4l2.8 2.8l-2.8 2.8l-2.8 -2.8zM74.9 157.6l2.8 2.8l-2.8 2.8l-2.8 -2.8zM76.1 156.8l2.8 2.8l-2.8 2.8l-2.8 -2.8zM77.3 157.3l2.8 2.8l-2.8 2.8l-2.8 -2.8zM78.5 157.1l2.8 2.8l-2.8 2.8l-2.8 -2.8zM79.7 157.0l2.8 2.8l-2.8 2.8l-2.8 -2.8zM80.9 156.8l2.8 2.8l-2.8 2.8l-2.8 -2.8zM82.1 156.3l2.8 2.8l-2.8 2.8l-2.8 -2.8zM83.3 156.3l2.8 2.8l-2.8 2.8l-2.8 -2.8zM84.5 156.3l2.8 2.8l-2.8 2.8l-2.8 -2.8zM85.7 156.1l2.8 2.8l-2.8 2.8l-2.8 -2.8zM86.9 155.7l2.8 2.8l-2.8 2.8l-2.8 -2.8zM88.1 154.9l2.8 2.8l-2.8 2.8l-2.8 -2.8zM89.3 155.3l2.8 2.8l-2.8 2.8l-2.8 -2.8zM90.5 155.2l2.8 2.8l-2.8 2.8l-2.8 -2.8zM91.7 154.8l2.8 2.8l-2.8 2.8l-2.8 -2.8zM92.8 154.2l2.8 2.8l-2.8 2.8l-2.8 -2.8zM94.0 153.2l2.8 2.8l-2.8 2.8l-2.8 -2.8zM95.2 153.5l2.8 2.8l-2.8 2.8l-2.8 -2.8zM96.4 152.6l2.8 2.8l-2.8 2.8l-2.8 -2.8zM97.6 151.2l2.8 2.8l-2.8 2.8l-2.8 -2.8zM98.8 151.4l2.8 2.8l-2.8 2.8l-2.8 -2.8zM100.0 150.0l2.8 2.8l-2.8 2.8l-2.8 -2.8zM101.2 149.3l2.8 2.8l-2.8 2.8l-2.8 -2.8zM102.4 148.6l2.8 2.8l-2.8 2.8l-2.8 -2.8zM103.6 148.3l2.8 2.8l-2.8 2.8l-2.8 -2.8zM104.8 146.8l2.8 2.8l-2.8 2.8l-2.8 -2.8zM106.0 145.9l2.8 2.8l-2.8 2.8l-2.8 -2.8zM107.2 145.3l2.8 2.8l-2.8 2.8l-2.8 -2.8zM108.4 144.1l2.8 2.8l-2.8 2.8l-2.8 -2.8zM109.6 142.1l2.8 2.8l-2.8 2.8l-2.8 -2.8zM110.8 140.6l2.8 2.8l-2.8 2.8l-2.8 -2.8zM112.0 138.5l2.8 2.8l-2.8 2.8l-2.8 -2.8zM113.2 136.9l2.8 2.8l-2.8 2.8l-2.8 -2.8zM114.4 135.3l2.8 2.8l-2.8 2.8l-2.8 -2.8zM115.5 133.1l2.8 2.8l-2.8 2.8l-2.8 -2.8zM116.7 130.6l2.8 2.8l-2.8 2.8l-2.8 -2.8zM117.9 128.4l2.8 2.8l-2.8 2.8l-2.8 -2.8zM119.1 124.9l2.8 2.8l-2.8 2.8l-2.8 -2.8zM120.3 122.2l2.8 2.8l-2.8 2.8l-2.8 -2.8zM121.5 119.4l2.8 2.8l-2.8 2.8l-2.8 -2.8zM122.7 115.9l2.8 2.8l-2.8 2.8l-2.8 -2.8zM123.9 112.5l2.8 2.8l-2.8 2.8l-2.8 -2.8zM125.1 108.2l2.8 2.8l-2.8 2.8l-2.8 -2.8zM126.3 103.7l2.8 2.8l-2.8 2.8l-2.8 -2.8zM127.5 99.6l2.8 2.8l-2.8 2.8l-2.8 -2.8zM128.7 94.3l2.8 2.8l-2.8 2.8l-2.8 -2.8zM129.9 89.2l2.8 2.8l-2.8 2.8l-2.8 -2.8zM131.1 85.5l2.8 2.8l-2.8 2.8l-2.8 -2.8zM132.3 80.3l2.8 2.8l-2.8 2.8l-2.8 -2.8zM133.5 75.6l2.8 2.8l-2.8 2.8l-2.8 -2.8zM134.7 69.6l2.8 2.8l-2.8 2.8l-2.8 -2.8zM135.9 65.6l2.8 2.8l-2.8 2.8l-2.8 -2.8zM137.1 60.6l2.8 2.8l-2.8 2.8l-2.8 -2.8zM138.2 55.7l2.8 2.8l-2.8 2.8l-2.8 -2.8zM139.4 50.0l2.8 2.8l-2.8 2.8l-2.8 -2.8zM140.6 46.6l2.8 2.8l-2.8 2.8l-2.8 -2.8zM141.8 42.9l2.8 2.8l-2.8 2.8l-2.8 -2.8zM143.0 38.0l2.8 2.8l-2.8 2.8l-2.8 -2.8zM144.2 33.0l2.8 2.8l-2.8 2.8l-2.8 -2.8zM145.4 29.3l2.8 2.8l-2.8 2.8l-2.8 -2.8zM146.6 26.0l2.8 2.8l-2.8 2.8l-2.8 -2.8zM147.8 19.6l2.8 2.8l-2.8 2.8l-2.8 -2.8zM149.0 18.1l2.8 2.8l-2.8 2.8l-2.8 -2.8zM150.2 15.5l2.8 2.8l-2.8 2.8l-2.8 -2.8zM151.4 12.7l2.8 2.8l-2.8 2.8l-2.8 -2.8zM152.6 11.1l2.8 2.8l-2.8 2.8l-2.8 -2.8zM153.8 8.6l2.8 2.8l-2.8 2.8l-2.8 -2.8zM155.0 6.5l2.8 2.8l-2.8 2.8l-2.8 -2.8zM156.2 5.5l2.8 2.8l-2.8 2.8l-2.8 -2.8zM157.4 5.7l2.8 2.8l-2.8 2.8l-2.8 -2.8zM158.6 5.3l2.8 2.8l-2.8 2.8l-2.8 -2.8zM159.8 6.9l2.8 2.8l-2.8 2.8l-2.8 -2.8zM160.9 9.5l2.8 2.8l-2.8 2.8l-2.8 -2.8zM162.1 12.6l2.8 2.8l-2.8 2.8l-2.8 -2.8zM163.3 13.8l2.8 2.8l-2.8 2.8l-2.8 -2.8zM164.5 17.1l2.8 2.8l-2.8 2.8l-2.8 -2.8zM165.7 21.1l2.8 2.8l-2.8 2.8l-2.8 -2.8zM166.9 26.1l2.8 2.8l-2.8 2.8l-2.8 -2.8zM168.1 29.7l2.8 2.8l-2.8 2.8l-2.8 -2.8zM169.3 35.7l2.8 2.8l-2.8 2.8l-2.8 -2.8zM170.5 39.3l2.8 2.8l-2.8 2.8l-2.8 -2.8zM171.7 45.4l2.8 2.8l-2.8 2.8l-2.8 -2.8zM172.9 51.1l2.8 2.8l-2.8 2.8l-2.8 -2.8zM174.1 57.6l2.8 2.8l-2.8 2.8l-2.8 -2.8zM175.3 63.7l2.8 2.8l-2.8 2.8l-2.8 -2.8zM176.5 68.1l2.8 2.8l-2.8 2.8l-2.8 -2.8zM177.7 74.4l2.8 2.8l-2.8 2.8l-2.8 -2.8zM178.9 81.0l2.8 2.8l-2.8 2.8l-2.8 -2.8zM180.1 86.2l2.8 2.8l-2.8 2.8l-2.8 -2.8zM181.3 91.3l2.8 2.8l-2.8 2.8l-2.8 -2.8zM182.5 98.1l2.8 2.8l-2.8 2.8l-2.8 -2.8zM183.7 103.0l2.8 2.8l-2.8 2.8l-2.8 -2.8zM184.8 107.9l2.8 2.8l-2.8 2.8l-2.8 -2.8zM186.0 112.1l2.8 2.8l-2.8 2.8l-2.8 -2.8zM187.2 117.2l2.8 2.8l-2.8 2.8l-2.8 -2.8zM188.4 120.8l2.8 2.8l-2.8 2.8l-2.8 -2.8zM189.6 125.2l2.8 2.8l-2.8 2.8l-2.8 -2.8zM190.8 127.9l2.8 2.8l-2.8 2.8l-2.8 -2.8zM192.0 131.3l2.8 2.8l-2.8 2.8l-2.8 -2.8zM193.2 134.8l2.8 2.8l-2.8 2.8l-2.8 -2.8zM194.4 137.2l2.8 2.8l-2.8 2.8l-2.8 -2.8zM195.6 140.3l2.8 2.8l-2.8 2.8l-2.8 -2.8zM196.8 142.4l2.8 2.8l-2.8 2.8l-2.8 -2.8zM198.0 144.1l2.8 2.8l-2.8 2.8l-2.8 -2.8zM199.2 146.3l2.8 2.8l-2.8 2.8l-2.8 -2.8zM200.4 147.8l2.8 2.8l-2.8 2.8l-2.8 -2.8zM201.6 149.6l2.8 2.8l-2.8 2.8l-2.8 -2.8zM202.8 150.3l2.8 2.8l-2.8 2.8l-2.8 -2.8zM204.0 151.4l2.8 2.8l-2.8 2.8l-2.8 -2.8zM205.2 152.9l2.8 2.8l-2.8 2.8l-2.8 -2.8zM206.4 154.0l2.8 2.8l-2.8 2.8l-2.8 -2.8zM207.5 154.7l2.8 2.8l-2.8 2.8l-2.8 -2.8zM208.7 154.7l2.8 2.8l-2.8 2.8l-2.8 -2.8zM209.9 155.3l2.8 2.8l-2.8 2.8l-2.8 -2.8zM211.1 156.2l2.8 2.8l-2.8 2.8l-2.8 -2.8zM212.3 156.1l2.8 2.8l-2.8 2.8l-2.8 -2.8zM213.5 156.2l2.8 2.8l-2.8 2.8l-2.8 -2.8zM214.7 156.9l2.8 2.8l-2.8 2.8l-2.8 -2.8zM215.9 157.3l2.8 2.8l-2.8 2.8l-2.8 -2.8zM217.1 157.2l2.8 2.8l-2.8 2.8l-2.8 -2.8zM218.3 157.3l2.8 2.8l-2.8 2.8l-2.8 -2.8zM219.5 157.6l2.8 2.8l-2.8 2.8l-2.8 -2.8zM220.7 158.5l2.8 2.8l-2.8 2.8l-2.8 -2.8zM221.9 158.2l2.8 2.8l-2.8 2.8l-2.8 -2.8zM223.1 158.6l2.8 2.8l-2.8 2.8l-2.8 -2.8zM224.3 158.9l2.8 2.8l-2.8 2.8l-2.8 -2.8zM225.5 159.2l2.8 2.8l-2.8 2.8l-2.8 -2.8zM226.7 159.0l2.8 2.8l-2.8 2.8l-2.8 -2.8zM227.9 159.4l2.8 2.8l-2.8 2.8l-2.8 -2.8zM229.1 159.1l2.8 2.8l-2.8 2.8l-2.8 -2.8zM230.2 159.4l2.8 2.8l-2.8 2.8l-2.8 -2.8zM231.4 159.3l2.8 2.8l-2.8 2.8l-2.8 -2.8zM232.6 160.0l2.8 2.8l-2.8 2.8l-2.8 -2.8zM233.8 159.8l2.8 2.8l-2.8 2.8l-2.8 -2.8zM235.0 159.6l2.8 2.8l-2.8 2.8l-2.8 -2.8zM236.2 159.8l2.8 2.8l-2.8 2.8l-2.8 -2.8zM237.4 159.9l2.8 2.8l-2.8 2.8l-2.8 -2.8zM238.6 160.3l2.8 2.8l-2.8 2.8l-2.8 -2.8zM239.8 159.6l2.8 2.8l-2.8 2.8l-2.8 -2.8zM241.0 159.8l2.8 2.8l-2.8 2.8l-2.8 -2.8zM242.2 160.1l2.8 2.8l-2.8 2.8l-2.8 -2.8zM243.4 161.0l2.8 2.8l-2.8 2.8l-2.8 -2.8z"/>
<path fill="none" stroke="#0b9748" stroke-width="0.9" stroke-linejoin="round" d="M36.7 162.0L37.9 161.6L39.1 162.1L40.3 161.8L41.5 161.9L42.7 161.7L43.9 161.5L45.1 161.4L46.2 161.6L47.4 161.5L48.6 161.7L49.8 161.7L51.0 161.3L52.2 161.7L53.4 161.2L54.6 161.4L55.8 161.4L57.0 160.8L58.2 161.4L59.4 161.4L60.6 161.2L61.8 161.1L63.0 161.0L64.2 160.8L65.4 160.9L66.6 160.8L67.8 160.9L68.9 160.4L70.1 160.7L71.3 160.6L72.5 160.4L73.7 160.2L74.9 160.4L76.1 159.6L77.3 160.1L78.5 159.9L79.7 159.8L80.9 159.6L82.1 159.1L83.3 159.1L84.5 159.1L85.7 158.9L86.9 158.5L88.1 157.7L89.3 158.1L90.5 158.0L91.7 157.6L92.8 157.0L94.0 156.0L95.2 156.3L96.4 155.4L97.6 154.0L98.8 154.2L100.0 152.8L101.2 152.1L102.4 151.4L103.6 151.1L104.8 149.6L106.0 148.7L107.2 148.1L108.4 146.9L109.6 144.9L110.8 143.4L112.0 141.3L113.2 139.7L114.4 138.1L115.5 135.9L116.7 133.4L117.9 131.2L119.1 127.7L120.3 125.0L121.5 122.2L122.7 118.7L123.9 115.3L125.1 111.0L126.3 106.5L127.5 102.4L128.7 97.1L129.9 92.0L131.1 88.3L132.3 83.1L133.5 78.4L134.7 72.4L135.9 68.4L137.1 63.4L138.2 58.5L139.4 52.8L140.6 49.4L141.8 45.7L143.0 40.8L144.2 35.8L145.4 32.1L146.6 28.8L147.8 22.4L149.0 20.9L150.2 18.3L151.4 15.5L152.6 13.9L153.8 11.4L155.0 9.3L156.2 8.3L157.4 8.5L158.6 8.1L159.8 9.7L160.9 12.3L162.1 15.4L163.3 16.6L164.5 19.9L165.7 23.9L166.9 28.9L168.1 32.5L169.3 38.5L170.5 42.1L171.7 48.2L172.9 53.9L174.1 60.4L175.3 66.5L176.5 70.9L177.7 77.2L178.9 83.8L180.1 89.0L181.3 94.1L182.5 100.9L183.7 105.8L184.8 110.7L186.0 114.9L187.2 120.0L188.4 123.6L189.6 128.0L190.8 130.7L192.0 134.1L193.2 137.6L194.4 140.0L195.6 143.1L196.8 145.2L198.0 146.9L199.2 149.1L200.4 150.6L201.6 152.4L202.8 153.1L204.0 154.2L205.2 155.7L206.4 156.8L207.5 157.5L208.7 157.5L209.9 158.1L211.1 159.0L212.3 158.9L213.5 159.0L214.7 159.7L215.9 160.1L217.1 160.0L218.3 160.1L219.5 160.4L220.7 161.3L221.9 161.0L223.1 161.4L224.3 161.7L225.5 162.0L226.7 161.8L227.9 162.2L229.1 161.9L230.2 162.2L231.4 162.1L232.6 162.8L233.8 162.6L235.0 162.4L236.2 162.6L237.4 162.7L238.6 163.1L239.8 162.4L241.0 162.6L242.2 162.9L243.4 163.8"/>
<path d="M32.4 7V261.5H245" fill="none" stroke="#000" stroke-width="1.25"/>
<path d="M36.3 261.5v7.5M88.3 261.5v7.5M140.3 261.5v7.5M192.3 261.5v7.5M244.3 261.5v7.5" fill="none" stroke="#000" stroke-width="1.25"/>
<text x="36.8" y="281" font-size="10" text-anchor="middle">108</text>
<text x="88.8" y="281" font-size="10" text-anchor="middle">106</text>
<text x="140.8" y="281" font-size="10" text-anchor="middle">104</text>
<text x="192.8" y="281" font-size="10" text-anchor="middle">102</text>
<text x="244.8" y="281" font-size="10" text-anchor="middle">100</text>
<text x="139.8" y="295" font-size="12" font-weight="bold" text-anchor="middle" textLength="121" lengthAdjust="spacingAndGlyphs">Binding energies (eV)</text>
<text transform="translate(14.2 134.5) rotate(-90)" font-size="12" font-weight="bold" text-anchor="middle" textLength="82" lengthAdjust="spacingAndGlyphs">Intensity (a.u.)</text>
<text x="15.6" y="18" font-size="12">c.</text>
<text x="49.6" y="26.6" font-size="16" font-weight="bold">Si 2p</text>
<path fill="#0b9748" d="M185.6 8.9l3.6 3.6l-3.6 3.6l-3.6 -3.6z"/>
<text x="196.8" y="15.9" font-size="10.15">SBA-NBDPD</text>
<path fill="#0000ff" d="M185.6 18.9l3.6 3.6l-3.6 3.6l-3.6 -3.6z"/>
<text x="196.8" y="25.9" font-size="10.15">SBA-NBDH</text>
<path fill="#ff0000" d="M185.6 29.1l3.6 3.6l-3.6 3.6l-3.6 -3.6z"/>
<text x="196.8" y="36.1" font-size="10.15">SBA-Cl</text>
<path fill="#000000" d="M185.6 39.2l3.6 3.6l-3.6 3.6l-3.6 -3.6z"/>
<text x="196.8" y="46.2" font-size="10.15">SBA15</text>
<path fill="#2b2b2b" d="M331.5 253.1l3.0 3.0l-3.0 3.0l-3.0 -3.0zM332.4 253.0l3.0 3.0l-3.0 3.0l-3.0 -3.0zM333.2 253.1l3.0 3.0l-3.0 3.0l-3.0 -3.0zM334.1 253.2l3.0 3.0l-3.0 3.0l-3.0 -3.0zM335.0 253.0l3.0 3.0l-3.0 3.0l-3.0 -3.0zM335.9 252.9l3.0 3.0l-3.0 3.0l-3.0 -3.0zM336.8 253.1l3.0 3.0l-3.0 3.0l-3.0 -3.0zM337.7 253.0l3.0 3.0l-3.0 3.0l-3.0 -3.0zM338.5 253.0l3.0 3.0l-3.0 3.0l-3.0 -3.0zM339.4 252.9l3.0 3.0l-3.0 3.0l-3.0 -3.0zM340.3 253.2l3.0 3.0l-3.0 3.0l-3.0 -3.0zM341.2 253.1l3.0 3.0l-3.0 3.0l-3.0 -3.0zM342.1 253.0l3.0 3.0l-3.0 3.0l-3.0 -3.0zM342.9 253.0l3.0 3.0l-3.0 3.0l-3.0 -3.0zM343.8 252.6l3.0 3.0l-3.0 3.0l-3.0 -3.0zM344.7 252.9l3.0 3.0l-3.0 3.0l-3.0 -3.0zM345.6 252.8l3.0 3.0l-3.0 3.0l-3.0 -3.0zM346.5 252.9l3.0 3.0l-3.0 3.0l-3.0 -3.0zM347.4 252.9l3.0 3.0l-3.0 3.0l-3.0 -3.0zM348.2 252.6l3.0 3.0l-3.0 3.0l-3.0 -3.0zM349.1 252.3l3.0 3.0l-3.0 3.0l-3.0 -3.0zM350.0 252.5l3.0 3.0l-3.0 3.0l-3.0 -3.0zM350.9 252.4l3.0 3.0l-3.0 3.0l-3.0 -3.0zM351.8 252.4l3.0 3.0l-3.0 3.0l-3.0 -3.0zM352.7 252.3l3.0 3.0l-3.0 3.0l-3.0 -3.0zM353.5 252.3l3.0 3.0l-3.0 3.0l-3.0 -3.0zM354.4 252.1l3.0 3.0l-3.0 3.0l-3.0 -3.0zM355.3 252.5l3.0 3.0l-3.0 3.0l-3.0 -3.0zM356.2 252.3l3.0 3.0l-3.0 3.0l-3.0 -3.0zM357.1 252.4l3.0 3.0l-3.0 3.0l-3.0 -3.0zM358.0 252.5l3.0 3.0l-3.0 3.0l-3.0 -3.0zM358.8 252.2l3.0 3.0l-3.0 3.0l-3.0 -3.0zM359.7 252.0l3.0 3.0l-3.0 3.0l-3.0 -3.0zM360.6 252.1l3.0 3.0l-3.0 3.0l-3.0 -3.0zM361.5 252.0l3.0 3.0l-3.0 3.0l-3.0 -3.0zM362.4 252.0l3.0 3.0l-3.0 3.0l-3.0 -3.0zM363.2 252.1l3.0 3.0l-3.0 3.0l-3.0 -3.0zM364.1 251.8l3.0 3.0l-3.0 3.0l-3.0 -3.0zM365.0 252.0l3.0 3.0l-3.0 3.0l-3.0 -3.0zM365.9 251.8l3.0 3.0l-3.0 3.0l-3.0 -3.0zM366.8 252.0l3.0 3.0l-3.0 3.0l-3.0 -3.0zM367.7 251.9l3.0 3.0l-3.0 3.0l-3.0 -3.0zM368.5 251.8l3.0 3.0l-3.0 3.0l-3.0 -3.0zM369.4 251.8l3.0 3.0l-3.0 3.0l-3.0 -3.0zM370.3 251.7l3.0 3.0l-3.0 3.0l-3.0 -3.0zM371.2 251.6l3.0 3.0l-3.0 3.0l-3.0 -3.0zM372.1 251.4l3.0 3.0l-3.0 3.0l-3.0 -3.0zM373.0 251.6l3.0 3.0l-3.0 3.0l-3.0 -3.0zM373.8 251.9l3.0 3.0l-3.0 3.0l-3.0 -3.0zM374.7 251.9l3.0 3.0l-3.0 3.0l-3.0 -3.0zM375.6 252.0l3.0 3.0l-3.0 3.0l-3.0 -3.0zM376.5 251.9l3.0 3.0l-3.0 3.0l-3.0 -3.0zM377.4 251.7l3.0 3.0l-3.0 3.0l-3.0 -3.0zM378.2 251.9l3.0 3.0l-3.0 3.0l-3.0 -3.0zM379.1 251.7l3.0 3.0l-3.0 3.0l-3.0 -3.0zM380.0 251.6l3.0 3.0l-3.0 3.0l-3.0 -3.0zM380.9 251.5l3.0 3.0l-3.0 3.0l-3.0 -3.0zM381.8 251.4l3.0 3.0l-3.0 3.0l-3.0 -3.0zM382.7 251.2l3.0 3.0l-3.0 3.0l-3.0 -3.0zM383.5 251.1l3.0 3.0l-3.0 3.0l-3.0 -3.0zM384.4 250.9l3.0 3.0l-3.0 3.0l-3.0 -3.0zM385.3 250.8l3.0 3.0l-3.0 3.0l-3.0 -3.0zM386.2 251.0l3.0 3.0l-3.0 3.0l-3.0 -3.0zM387.1 250.5l3.0 3.0l-3.0 3.0l-3.0 -3.0zM388.0 250.3l3.0 3.0l-3.0 3.0l-3.0 -3.0zM388.8 250.2l3.0 3.0l-3.0 3.0l-3.0 -3.0zM389.7 250.0l3.0 3.0l-3.0 3.0l-3.0 -3.0zM390.6 249.5l3.0 3.0l-3.0 3.0l-3.0 -3.0zM391.5 249.4l3.0 3.0l-3.0 3.0l-3.0 -3.0zM392.4 249.3l3.0 3.0l-3.0 3.0l-3.0 -3.0zM393.3 248.9l3.0 3.0l-3.0 3.0l-3.0 -3.0zM394.1 248.6l3.0 3.0l-3.0 3.0l-3.0 -3.0zM395.0 248.5l3.0 3.0l-3.0 3.0l-3.0 -3.0zM395.9 247.9l3.0 3.0l-3.0 3.0l-3.0 -3.0zM396.8 247.6l3.0 3.0l-3.0 3.0l-3.0 -3.0zM397.7 247.2l3.0 3.0l-3.0 3.0l-3.0 -3.0zM398.5 247.1l3.0 3.0l-3.0 3.0l-3.0 -3.0zM399.4 246.2l3.0 3.0l-3.0 3.0l-3.0 -3.0zM400.3 245.9l3.0 3.0l-3.0 3.0l-3.0 -3.0zM401.2 245.4l3.0 3.0l-3.0 3.0l-3.0 -3.0zM402.1 245.0l3.0 3.0l-3.0 3.0l-3.0 -3.0zM403.0 244.4l3.0 3.0l-3.0 3.0l-3.0 -3.0zM403.8 243.9l3.0 3.0l-3.0 3.0l-3.0 -3.0zM404.7 242.8l3.0 3.0l-3.0 3.0l-3.0 -3.0zM405.6 242.3l3.0 3.0l-3.0 3.0l-3.0 -3.0zM406.5 241.3l3.0 3.0l-3.0 3.0l-3.0 -3.0zM407.4 240.3l3.0 3.0l-3.0 3.0l-3.0 -3.0zM408.3 239.5l3.0 3.0l-3.0 3.0l-3.0 -3.0zM409.1 238.2l3.0 3.0l-3.0 3.0l-3.0 -3.0zM410.0 236.8l3.0 3.0l-3.0 3.0l-3.0 -3.0zM410.9 235.9l3.0 3.0l-3.0 3.0l-3.0 -3.0zM411.8 234.3l3.0 3.0l-3.0 3.0l-3.0 -3.0zM412.7 233.0l3.0 3.0l-3.0 3.0l-3.0 -3.0zM413.5 231.7l3.0 3.0l-3.0 3.0l-3.0 -3.0zM414.4 230.1l3.0 3.0l-3.0 3.0l-3.0 -3.0zM415.3 228.6l3.0 3.0l-3.0 3.0l-3.0 -3.0zM416.2 226.5l3.0 3.0l-3.0 3.0l-3.0 -3.0zM417.1 224.4l3.0 3.0l-3.0 3.0l-3.0 -3.0zM418.0 222.6l3.0 3.0l-3.0 3.0l-3.0 -3.0zM418.8 220.5l3.0 3.0l-3.0 3.0l-3.0 -3.0zM419.7 218.3l3.0 3.0l-3.0 3.0l-3.0 -3.0zM420.6 216.3l3.0 3.0l-3.0 3.0l-3.0 -3.0zM421.5 213.5l3.0 3.0l-3.0 3.0l-3.0 -3.0zM422.4 210.6l3.0 3.0l-3.0 3.0l-3.0 -3.0zM423.3 208.3l3.0 3.0l-3.0 3.0l-3.0 -3.0zM424.1 205.2l3.0 3.0l-3.0 3.0l-3.0 -3.0zM425.0 202.2l3.0 3.0l-3.0 3.0l-3.0 -3.0zM425.9 199.0l3.0 3.0l-3.0 3.0l-3.0 -3.0zM426.8 195.8l3.0 3.0l-3.0 3.0l-3.0 -3.0zM427.7 192.4l3.0 3.0l-3.0 3.0l-3.0 -3.0zM428.6 189.4l3.0 3.0l-3.0 3.0l-3.0 -3.0zM429.4 185.8l3.0 3.0l-3.0 3.0l-3.0 -3.0zM430.3 182.4l3.0 3.0l-3.0 3.0l-3.0 -3.0zM431.2 179.1l3.0 3.0l-3.0 3.0l-3.0 -3.0zM432.1 175.1l3.0 3.0l-3.0 3.0l-3.0 -3.0zM433.0 172.2l3.0 3.0l-3.0 3.0l-3.0 -3.0zM433.8 168.9l3.0 3.0l-3.0 3.0l-3.0 -3.0zM434.7 165.9l3.0 3.0l-3.0 3.0l-3.0 -3.0zM435.6 162.3l3.0 3.0l-3.0 3.0l-3.0 -3.0zM436.5 160.4l3.0 3.0l-3.0 3.0l-3.0 -3.0zM437.4 157.2l3.0 3.0l-3.0 3.0l-3.0 -3.0zM438.3 154.4l3.0 3.0l-3.0 3.0l-3.0 -3.0zM439.1 152.1l3.0 3.0l-3.0 3.0l-3.0 -3.0zM440.0 150.9l3.0 3.0l-3.0 3.0l-3.0 -3.0zM440.9 149.8l3.0 3.0l-3.0 3.0l-3.0 -3.0zM441.8 148.9l3.0 3.0l-3.0 3.0l-3.0 -3.0zM442.7 149.6l3.0 3.0l-3.0 3.0l-3.0 -3.0zM443.6 150.2l3.0 3.0l-3.0 3.0l-3.0 -3.0zM444.4 151.9l3.0 3.0l-3.0 3.0l-3.0 -3.0zM445.3 153.3l3.0 3.0l-3.0 3.0l-3.0 -3.0zM446.2 155.8l3.0 3.0l-3.0 3.0l-3.0 -3.0zM447.1 158.7l3.0 3.0l-3.0 3.0l-3.0 -3.0zM448.0 162.1l3.0 3.0l-3.0 3.0l-3.0 -3.0zM448.8 164.0l3.0 3.0l-3.0 3.0l-3.0 -3.0zM449.7 167.5l3.0 3.0l-3.0 3.0l-3.0 -3.0zM450.6 170.9l3.0 3.0l-3.0 3.0l-3.0 -3.0zM451.5 174.9l3.0 3.0l-3.0 3.0l-3.0 -3.0zM452.4 177.9l3.0 3.0l-3.0 3.0l-3.0 -3.0zM453.3 181.8l3.0 3.0l-3.0 3.0l-3.0 -3.0zM454.1 185.6l3.0 3.0l-3.0 3.0l-3.0 -3.0zM455.0 189.0l3.0 3.0l-3.0 3.0l-3.0 -3.0zM455.9 192.6l3.0 3.0l-3.0 3.0l-3.0 -3.0zM456.8 196.4l3.0 3.0l-3.0 3.0l-3.0 -3.0zM457.7 199.6l3.0 3.0l-3.0 3.0l-3.0 -3.0zM458.6 203.3l3.0 3.0l-3.0 3.0l-3.0 -3.0zM459.4 207.1l3.0 3.0l-3.0 3.0l-3.0 -3.0zM460.3 210.6l3.0 3.0l-3.0 3.0l-3.0 -3.0zM461.2 213.8l3.0 3.0l-3.0 3.0l-3.0 -3.0zM462.1 216.6l3.0 3.0l-3.0 3.0l-3.0 -3.0zM463.0 219.8l3.0 3.0l-3.0 3.0l-3.0 -3.0zM463.9 222.9l3.0 3.0l-3.0 3.0l-3.0 -3.0zM464.7 225.5l3.0 3.0l-3.0 3.0l-3.0 -3.0zM465.6 227.8l3.0 3.0l-3.0 3.0l-3.0 -3.0zM466.5 230.0l3.0 3.0l-3.0 3.0l-3.0 -3.0zM467.4 232.4l3.0 3.0l-3.0 3.0l-3.0 -3.0zM468.3 234.1l3.0 3.0l-3.0 3.0l-3.0 -3.0zM469.1 235.8l3.0 3.0l-3.0 3.0l-3.0 -3.0zM470.0 237.5l3.0 3.0l-3.0 3.0l-3.0 -3.0zM470.9 239.4l3.0 3.0l-3.0 3.0l-3.0 -3.0zM471.8 240.6l3.0 3.0l-3.0 3.0l-3.0 -3.0zM472.7 241.9l3.0 3.0l-3.0 3.0l-3.0 -3.0zM473.6 242.8l3.0 3.0l-3.0 3.0l-3.0 -3.0zM474.4 243.9l3.0 3.0l-3.0 3.0l-3.0 -3.0zM475.3 244.6l3.0 3.0l-3.0 3.0l-3.0 -3.0zM476.2 245.4l3.0 3.0l-3.0 3.0l-3.0 -3.0zM477.1 246.4l3.0 3.0l-3.0 3.0l-3.0 -3.0zM478.0 246.8l3.0 3.0l-3.0 3.0l-3.0 -3.0zM478.9 247.2l3.0 3.0l-3.0 3.0l-3.0 -3.0zM479.7 247.7l3.0 3.0l-3.0 3.0l-3.0 -3.0zM480.6 248.2l3.0 3.0l-3.0 3.0l-3.0 -3.0zM481.5 248.7l3.0 3.0l-3.0 3.0l-3.0 -3.0zM482.4 248.8l3.0 3.0l-3.0 3.0l-3.0 -3.0zM483.3 248.9l3.0 3.0l-3.0 3.0l-3.0 -3.0zM484.1 249.4l3.0 3.0l-3.0 3.0l-3.0 -3.0zM485.0 249.7l3.0 3.0l-3.0 3.0l-3.0 -3.0zM485.9 249.9l3.0 3.0l-3.0 3.0l-3.0 -3.0zM486.8 250.2l3.0 3.0l-3.0 3.0l-3.0 -3.0zM487.7 250.3l3.0 3.0l-3.0 3.0l-3.0 -3.0zM488.6 250.5l3.0 3.0l-3.0 3.0l-3.0 -3.0zM489.4 250.4l3.0 3.0l-3.0 3.0l-3.0 -3.0zM490.3 250.8l3.0 3.0l-3.0 3.0l-3.0 -3.0zM491.2 251.1l3.0 3.0l-3.0 3.0l-3.0 -3.0zM492.1 251.0l3.0 3.0l-3.0 3.0l-3.0 -3.0zM493.0 251.1l3.0 3.0l-3.0 3.0l-3.0 -3.0zM493.9 251.3l3.0 3.0l-3.0 3.0l-3.0 -3.0zM494.7 251.6l3.0 3.0l-3.0 3.0l-3.0 -3.0zM495.6 251.5l3.0 3.0l-3.0 3.0l-3.0 -3.0zM496.5 251.7l3.0 3.0l-3.0 3.0l-3.0 -3.0zM497.4 251.9l3.0 3.0l-3.0 3.0l-3.0 -3.0zM498.3 252.1l3.0 3.0l-3.0 3.0l-3.0 -3.0zM499.2 252.0l3.0 3.0l-3.0 3.0l-3.0 -3.0zM500.0 252.2l3.0 3.0l-3.0 3.0l-3.0 -3.0zM500.9 252.3l3.0 3.0l-3.0 3.0l-3.0 -3.0zM501.8 252.4l3.0 3.0l-3.0 3.0l-3.0 -3.0zM502.7 252.4l3.0 3.0l-3.0 3.0l-3.0 -3.0zM503.6 252.3l3.0 3.0l-3.0 3.0l-3.0 -3.0zM504.4 252.5l3.0 3.0l-3.0 3.0l-3.0 -3.0zM505.3 252.7l3.0 3.0l-3.0 3.0l-3.0 -3.0zM506.2 252.5l3.0 3.0l-3.0 3.0l-3.0 -3.0zM507.1 252.6l3.0 3.0l-3.0 3.0l-3.0 -3.0zM508.0 252.8l3.0 3.0l-3.0 3.0l-3.0 -3.0zM508.9 252.6l3.0 3.0l-3.0 3.0l-3.0 -3.0zM509.7 252.8l3.0 3.0l-3.0 3.0l-3.0 -3.0zM510.6 252.6l3.0 3.0l-3.0 3.0l-3.0 -3.0zM511.5 252.8l3.0 3.0l-3.0 3.0l-3.0 -3.0zM512.4 252.7l3.0 3.0l-3.0 3.0l-3.0 -3.0zM513.3 252.6l3.0 3.0l-3.0 3.0l-3.0 -3.0zM514.2 252.4l3.0 3.0l-3.0 3.0l-3.0 -3.0zM515.0 252.5l3.0 3.0l-3.0 3.0l-3.0 -3.0zM515.9 252.5l3.0 3.0l-3.0 3.0l-3.0 -3.0zM516.8 252.5l3.0 3.0l-3.0 3.0l-3.0 -3.0zM517.7 252.7l3.0 3.0l-3.0 3.0l-3.0 -3.0zM518.6 252.4l3.0 3.0l-3.0 3.0l-3.0 -3.0zM519.4 252.7l3.0 3.0l-3.0 3.0l-3.0 -3.0zM520.3 252.6l3.0 3.0l-3.0 3.0l-3.0 -3.0zM521.2 252.8l3.0 3.0l-3.0 3.0l-3.0 -3.0zM522.1 252.7l3.0 3.0l-3.0 3.0l-3.0 -3.0zM523.0 252.6l3.0 3.0l-3.0 3.0l-3.0 -3.0zM523.9 252.7l3.0 3.0l-3.0 3.0l-3.0 -3.0zM524.7 252.8l3.0 3.0l-3.0 3.0l-3.0 -3.0zM525.6 252.7l3.0 3.0l-3.0 3.0l-3.0 -3.0zM526.5 252.8l3.0 3.0l-3.0 3.0l-3.0 -3.0zM527.4 252.7l3.0 3.0l-3.0 3.0l-3.0 -3.0zM528.3 252.5l3.0 3.0l-3.0 3.0l-3.0 -3.0zM529.2 252.9l3.0 3.0l-3.0 3.0l-3.0 -3.0zM530.0 252.9l3.0 3.0l-3.0 3.0l-3.0 -3.0zM530.9 252.9l3.0 3.0l-3.0 3.0l-3.0 -3.0zM531.8 252.9l3.0 3.0l-3.0 3.0l-3.0 -3.0zM532.7 253.0l3.0 3.0l-3.0 3.0l-3.0 -3.0zM533.6 252.9l3.0 3.0l-3.0 3.0l-3.0 -3.0zM534.5 252.9l3.0 3.0l-3.0 3.0l-3.0 -3.0zM535.3 252.9l3.0 3.0l-3.0 3.0l-3.0 -3.0zM536.2 253.1l3.0 3.0l-3.0 3.0l-3.0 -3.0zM537.1 252.8l3.0 3.0l-3.0 3.0l-3.0 -3.0z"/>
<path fill="none" stroke="#000" stroke-width="0.8" d="M331.5 256.0L332.5 256.0L333.5 256.0L334.5 256.0L335.5 256.0L336.5 256.0L337.5 256.0L338.5 255.9L339.5 255.9L340.5 255.9L341.5 255.9L342.5 255.9L343.5 255.9L344.5 255.9L345.5 255.9L346.5 255.8L347.5 255.8L348.5 255.7L349.5 255.5L350.5 255.5L351.5 255.4L352.5 255.4L353.5 255.4L354.5 255.4L355.5 255.3L356.5 255.3L357.5 255.3L358.5 255.2L359.5 255.2L360.5 255.2L361.5 255.1L362.5 255.1L363.5 255.1L364.5 255.0L365.5 255.0L366.5 254.9L367.5 254.9L368.5 254.8L369.5 254.8L370.5 254.7L371.5 254.7L372.5 254.6L373.5 254.6L374.5 254.7L375.5 254.8L376.5 254.8L377.5 254.8L378.5 254.8L379.5 254.7L380.5 254.6L381.5 254.5L382.5 254.4L383.5 254.3L384.5 254.1L385.5 254.0L386.5 253.8L387.5 253.7L388.5 253.5L389.5 253.3L390.5 253.1L391.5 253.0L392.5 252.8L393.5 252.6L394.5 252.4L395.5 252.2L396.5 252.0L397.5 251.8L398.5 251.5L399.5 251.3L400.5 251.0L401.5 250.7L402.5 250.4L403.5 250.0L404.5 249.6L405.5 249.1L406.5 248.5L407.5 247.8L408.5 247.0L409.5 246.1L410.5 245.1L411.5 244.0L412.5 242.7L413.5 241.3L414.5 239.7L415.5 238.0L416.5 236.2L417.5 234.2L418.5 232.0L419.5 229.6L420.5 227.0L421.5 224.2L422.5 221.0L423.5 217.7L424.5 214.1L425.5 210.3L426.5 206.4L427.5 202.3L428.5 198.3L429.5 194.1L430.5 189.9L431.5 185.7L432.5 181.6L433.5 177.5L434.5 173.5L435.5 169.6L436.5 166.0L437.5 162.6L438.5 159.7L439.5 157.2L440.5 155.2L441.5 154.0L442.5 153.9L443.5 154.5L444.5 155.9L445.5 157.8L446.5 160.3L447.5 163.2L448.5 166.5L449.5 170.1L450.5 173.9L451.5 177.9L452.5 181.9L453.5 186.0L454.5 190.1L455.5 194.2L456.5 198.3L457.5 202.4L458.5 206.4L459.5 210.4L460.5 214.2L461.5 217.8L462.5 221.3L463.5 224.6L464.5 227.6L465.5 230.5L466.5 233.1L467.5 235.5L468.5 237.7L469.5 239.7L470.5 241.5L471.5 243.1L472.5 244.5L473.5 245.7L474.5 246.8L475.5 247.8L476.5 248.6L477.5 249.4L478.5 250.0L479.5 250.6L480.5 251.1L481.5 251.5L482.5 251.9L483.5 252.2L484.5 252.5L485.5 252.8L486.5 253.0L487.5 253.2L488.5 253.4L489.5 253.5L490.5 253.7L491.5 253.8L492.5 254.0L493.5 254.2L494.5 254.4L495.5 254.5L496.5 254.7L497.5 254.9L498.5 255.0L499.5 255.1L500.5 255.2L501.5 255.3L502.5 255.4L503.5 255.5L504.5 255.5L505.5 255.6L506.5 255.6L507.5 255.7L508.5 255.7L509.5 255.8L510.5 255.8L511.5 255.6L512.5 255.4L513.5 255.4L514.5 255.4L515.5 255.4L516.5 255.5L517.5 255.5L518.5 255.5L519.5 255.6L520.5 255.6L521.5 255.6L522.5 255.6L523.5 255.7L524.5 255.7L525.5 255.7L526.5 255.7L527.5 255.8L528.5 255.8L529.5 255.8L530.5 255.8L531.5 255.9L532.5 255.9L533.5 255.9L534.5 255.9L535.5 256.0L536.5 256.0"/>
<path fill="#ff0000" d="M332.4 204.7l3.0 3.0l-3.0 3.0l-3.0 -3.0zM333.2 204.5l3.0 3.0l-3.0 3.0l-3.0 -3.0zM334.1 204.4l3.0 3.0l-3.0 3.0l-3.0 -3.0zM335.0 204.7l3.0 3.0l-3.0 3.0l-3.0 -3.0zM335.9 204.6l3.0 3.0l-3.0 3.0l-3.0 -3.0zM336.8 204.4l3.0 3.0l-3.0 3.0l-3.0 -3.0zM337.7 204.5l3.0 3.0l-3.0 3.0l-3.0 -3.0zM338.5 204.6l3.0 3.0l-3.0 3.0l-3.0 -3.0zM339.4 204.7l3.0 3.0l-3.0 3.0l-3.0 -3.0zM340.3 204.5l3.0 3.0l-3.0 3.0l-3.0 -3.0zM341.2 204.6l3.0 3.0l-3.0 3.0l-3.0 -3.0zM342.1 204.6l3.0 3.0l-3.0 3.0l-3.0 -3.0zM342.9 204.4l3.0 3.0l-3.0 3.0l-3.0 -3.0zM343.8 204.5l3.0 3.0l-3.0 3.0l-3.0 -3.0zM344.7 204.5l3.0 3.0l-3.0 3.0l-3.0 -3.0zM345.6 204.4l3.0 3.0l-3.0 3.0l-3.0 -3.0zM346.5 204.4l3.0 3.0l-3.0 3.0l-3.0 -3.0zM347.4 204.4l3.0 3.0l-3.0 3.0l-3.0 -3.0zM348.2 204.4l3.0 3.0l-3.0 3.0l-3.0 -3.0zM349.1 204.3l3.0 3.0l-3.0 3.0l-3.0 -3.0zM350.0 204.3l3.0 3.0l-3.0 3.0l-3.0 -3.0zM350.9 204.5l3.0 3.0l-3.0 3.0l-3.0 -3.0zM351.8 204.4l3.0 3.0l-3.0 3.0l-3.0 -3.0zM352.7 204.4l3.0 3.0l-3.0 3.0l-3.0 -3.0zM353.5 204.5l3.0 3.0l-3.0 3.0l-3.0 -3.0zM354.4 204.4l3.0 3.0l-3.0 3.0l-3.0 -3.0zM355.3 204.5l3.0 3.0l-3.0 3.0l-3.0 -3.0zM356.2 204.2l3.0 3.0l-3.0 3.0l-3.0 -3.0zM357.1 204.3l3.0 3.0l-3.0 3.0l-3.0 -3.0zM358.0 204.2l3.0 3.0l-3.0 3.0l-3.0 -3.0zM358.8 204.4l3.0 3.0l-3.0 3.0l-3.0 -3.0zM359.7 204.4l3.0 3.0l-3.0 3.0l-3.0 -3.0zM360.6 203.9l3.0 3.0l-3.0 3.0l-3.0 -3.0zM361.5 204.0l3.0 3.0l-3.0 3.0l-3.0 -3.0zM362.4 204.2l3.0 3.0l-3.0 3.0l-3.0 -3.0zM363.2 204.2l3.0 3.0l-3.0 3.0l-3.0 -3.0zM364.1 204.1l3.0 3.0l-3.0 3.0l-3.0 -3.0zM365.0 204.0l3.0 3.0l-3.0 3.0l-3.0 -3.0zM365.9 204.0l3.0 3.0l-3.0 3.0l-3.0 -3.0zM366.8 204.0l3.0 3.0l-3.0 3.0l-3.0 -3.0zM367.7 203.9l3.0 3.0l-3.0 3.0l-3.0 -3.0zM368.5 204.0l3.0 3.0l-3.0 3.0l-3.0 -3.0zM369.4 203.6l3.0 3.0l-3.0 3.0l-3.0 -3.0zM370.3 203.9l3.0 3.0l-3.0 3.0l-3.0 -3.0zM371.2 203.6l3.0 3.0l-3.0 3.0l-3.0 -3.0zM372.1 203.8l3.0 3.0l-3.0 3.0l-3.0 -3.0zM373.0 203.7l3.0 3.0l-3.0 3.0l-3.0 -3.0zM373.8 203.6l3.0 3.0l-3.0 3.0l-3.0 -3.0zM374.7 203.7l3.0 3.0l-3.0 3.0l-3.0 -3.0zM375.6 203.6l3.0 3.0l-3.0 3.0l-3.0 -3.0zM376.5 203.6l3.0 3.0l-3.0 3.0l-3.0 -3.0zM377.4 203.4l3.0 3.0l-3.0 3.0l-3.0 -3.0zM378.2 203.6l3.0 3.0l-3.0 3.0l-3.0 -3.0zM379.1 203.6l3.0 3.0l-3.0 3.0l-3.0 -3.0zM380.0 203.6l3.0 3.0l-3.0 3.0l-3.0 -3.0zM380.9 203.4l3.0 3.0l-3.0 3.0l-3.0 -3.0zM381.8 203.4l3.0 3.0l-3.0 3.0l-3.0 -3.0zM382.7 203.2l3.0 3.0l-3.0 3.0l-3.0 -3.0zM383.5 203.1l3.0 3.0l-3.0 3.0l-3.0 -3.0zM384.4 203.1l3.0 3.0l-3.0 3.0l-3.0 -3.0zM385.3 203.1l3.0 3.0l-3.0 3.0l-3.0 -3.0zM386.2 202.8l3.0 3.0l-3.0 3.0l-3.0 -3.0zM387.1 202.7l3.0 3.0l-3.0 3.0l-3.0 -3.0zM388.0 202.5l3.0 3.0l-3.0 3.0l-3.0 -3.0zM388.8 202.4l3.0 3.0l-3.0 3.0l-3.0 -3.0zM389.7 202.1l3.0 3.0l-3.0 3.0l-3.0 -3.0zM390.6 202.2l3.0 3.0l-3.0 3.0l-3.0 -3.0zM391.5 201.8l3.0 3.0l-3.0 3.0l-3.0 -3.0zM392.4 201.7l3.0 3.0l-3.0 3.0l-3.0 -3.0zM393.3 201.3l3.0 3.0l-3.0 3.0l-3.0 -3.0zM394.1 201.3l3.0 3.0l-3.0 3.0l-3.0 -3.0zM395.0 201.1l3.0 3.0l-3.0 3.0l-3.0 -3.0zM395.9 200.7l3.0 3.0l-3.0 3.0l-3.0 -3.0zM396.8 200.8l3.0 3.0l-3.0 3.0l-3.0 -3.0zM397.7 200.3l3.0 3.0l-3.0 3.0l-3.0 -3.0zM398.5 200.2l3.0 3.0l-3.0 3.0l-3.0 -3.0zM399.4 199.8l3.0 3.0l-3.0 3.0l-3.0 -3.0zM400.3 199.2l3.0 3.0l-3.0 3.0l-3.0 -3.0zM401.2 198.9l3.0 3.0l-3.0 3.0l-3.0 -3.0zM402.1 198.6l3.0 3.0l-3.0 3.0l-3.0 -3.0zM403.0 198.1l3.0 3.0l-3.0 3.0l-3.0 -3.0zM403.8 197.6l3.0 3.0l-3.0 3.0l-3.0 -3.0zM404.7 197.0l3.0 3.0l-3.0 3.0l-3.0 -3.0zM405.6 196.2l3.0 3.0l-3.0 3.0l-3.0 -3.0zM406.5 195.8l3.0 3.0l-3.0 3.0l-3.0 -3.0zM407.4 194.8l3.0 3.0l-3.0 3.0l-3.0 -3.0zM408.3 194.5l3.0 3.0l-3.0 3.0l-3.0 -3.0zM409.1 193.6l3.0 3.0l-3.0 3.0l-3.0 -3.0zM410.0 192.7l3.0 3.0l-3.0 3.0l-3.0 -3.0zM410.9 191.9l3.0 3.0l-3.0 3.0l-3.0 -3.0zM411.8 191.1l3.0 3.0l-3.0 3.0l-3.0 -3.0zM412.7 189.8l3.0 3.0l-3.0 3.0l-3.0 -3.0zM413.5 188.6l3.0 3.0l-3.0 3.0l-3.0 -3.0zM414.4 187.5l3.0 3.0l-3.0 3.0l-3.0 -3.0zM415.3 186.1l3.0 3.0l-3.0 3.0l-3.0 -3.0zM416.2 184.9l3.0 3.0l-3.0 3.0l-3.0 -3.0zM417.1 183.9l3.0 3.0l-3.0 3.0l-3.0 -3.0zM418.0 181.9l3.0 3.0l-3.0 3.0l-3.0 -3.0zM418.8 180.5l3.0 3.0l-3.0 3.0l-3.0 -3.0zM419.7 178.5l3.0 3.0l-3.0 3.0l-3.0 -3.0zM420.6 177.0l3.0 3.0l-3.0 3.0l-3.0 -3.0zM421.5 174.9l3.0 3.0l-3.0 3.0l-3.0 -3.0zM422.4 172.9l3.0 3.0l-3.0 3.0l-3.0 -3.0zM423.3 170.9l3.0 3.0l-3.0 3.0l-3.0 -3.0zM424.1 168.8l3.0 3.0l-3.0 3.0l-3.0 -3.0zM425.0 166.0l3.0 3.0l-3.0 3.0l-3.0 -3.0zM425.9 163.3l3.0 3.0l-3.0 3.0l-3.0 -3.0zM426.8 160.1l3.0 3.0l-3.0 3.0l-3.0 -3.0zM427.7 157.5l3.0 3.0l-3.0 3.0l-3.0 -3.0zM428.6 154.1l3.0 3.0l-3.0 3.0l-3.0 -3.0zM429.4 151.1l3.0 3.0l-3.0 3.0l-3.0 -3.0zM430.3 147.6l3.0 3.0l-3.0 3.0l-3.0 -3.0zM431.2 144.7l3.0 3.0l-3.0 3.0l-3.0 -3.0zM432.1 140.3l3.0 3.0l-3.0 3.0l-3.0 -3.0zM433.0 137.5l3.0 3.0l-3.0 3.0l-3.0 -3.0zM433.8 134.6l3.0 3.0l-3.0 3.0l-3.0 -3.0zM434.7 131.1l3.0 3.0l-3.0 3.0l-3.0 -3.0zM435.6 127.8l3.0 3.0l-3.0 3.0l-3.0 -3.0zM436.5 124.9l3.0 3.0l-3.0 3.0l-3.0 -3.0zM437.4 121.5l3.0 3.0l-3.0 3.0l-3.0 -3.0zM438.3 119.0l3.0 3.0l-3.0 3.0l-3.0 -3.0zM439.1 116.9l3.0 3.0l-3.0 3.0l-3.0 -3.0zM440.0 113.6l3.0 3.0l-3.0 3.0l-3.0 -3.0zM440.9 110.1l3.0 3.0l-3.0 3.0l-3.0 -3.0zM441.8 107.7l3.0 3.0l-3.0 3.0l-3.0 -3.0zM442.7 105.6l3.0 3.0l-3.0 3.0l-3.0 -3.0zM443.6 104.3l3.0 3.0l-3.0 3.0l-3.0 -3.0zM444.4 102.4l3.0 3.0l-3.0 3.0l-3.0 -3.0zM445.3 102.2l3.0 3.0l-3.0 3.0l-3.0 -3.0zM446.2 103.4l3.0 3.0l-3.0 3.0l-3.0 -3.0zM447.1 104.6l3.0 3.0l-3.0 3.0l-3.0 -3.0zM448.0 105.9l3.0 3.0l-3.0 3.0l-3.0 -3.0zM448.8 107.9l3.0 3.0l-3.0 3.0l-3.0 -3.0zM449.7 110.4l3.0 3.0l-3.0 3.0l-3.0 -3.0zM450.6 113.6l3.0 3.0l-3.0 3.0l-3.0 -3.0zM451.5 116.4l3.0 3.0l-3.0 3.0l-3.0 -3.0zM452.4 120.9l3.0 3.0l-3.0 3.0l-3.0 -3.0zM453.3 124.2l3.0 3.0l-3.0 3.0l-3.0 -3.0zM454.1 128.5l3.0 3.0l-3.0 3.0l-3.0 -3.0zM455.0 133.1l3.0 3.0l-3.0 3.0l-3.0 -3.0zM455.9 137.1l3.0 3.0l-3.0 3.0l-3.0 -3.0zM456.8 140.7l3.0 3.0l-3.0 3.0l-3.0 -3.0zM457.7 145.5l3.0 3.0l-3.0 3.0l-3.0 -3.0zM458.6 149.9l3.0 3.0l-3.0 3.0l-3.0 -3.0zM459.4 153.5l3.0 3.0l-3.0 3.0l-3.0 -3.0zM460.3 157.5l3.0 3.0l-3.0 3.0l-3.0 -3.0zM461.2 161.5l3.0 3.0l-3.0 3.0l-3.0 -3.0zM462.1 164.7l3.0 3.0l-3.0 3.0l-3.0 -3.0zM463.0 168.7l3.0 3.0l-3.0 3.0l-3.0 -3.0zM463.9 171.0l3.0 3.0l-3.0 3.0l-3.0 -3.0zM464.7 174.2l3.0 3.0l-3.0 3.0l-3.0 -3.0zM465.6 177.0l3.0 3.0l-3.0 3.0l-3.0 -3.0zM466.5 179.4l3.0 3.0l-3.0 3.0l-3.0 -3.0zM467.4 181.7l3.0 3.0l-3.0 3.0l-3.0 -3.0zM468.3 183.8l3.0 3.0l-3.0 3.0l-3.0 -3.0zM469.1 185.7l3.0 3.0l-3.0 3.0l-3.0 -3.0zM470.0 187.7l3.0 3.0l-3.0 3.0l-3.0 -3.0zM470.9 188.8l3.0 3.0l-3.0 3.0l-3.0 -3.0zM471.8 190.6l3.0 3.0l-3.0 3.0l-3.0 -3.0zM472.7 191.8l3.0 3.0l-3.0 3.0l-3.0 -3.0zM473.6 193.1l3.0 3.0l-3.0 3.0l-3.0 -3.0zM474.4 194.1l3.0 3.0l-3.0 3.0l-3.0 -3.0zM475.3 194.9l3.0 3.0l-3.0 3.0l-3.0 -3.0zM476.2 195.7l3.0 3.0l-3.0 3.0l-3.0 -3.0zM477.1 196.6l3.0 3.0l-3.0 3.0l-3.0 -3.0zM478.0 197.1l3.0 3.0l-3.0 3.0l-3.0 -3.0zM478.9 197.5l3.0 3.0l-3.0 3.0l-3.0 -3.0zM479.7 198.3l3.0 3.0l-3.0 3.0l-3.0 -3.0zM480.6 198.7l3.0 3.0l-3.0 3.0l-3.0 -3.0zM481.5 198.5l3.0 3.0l-3.0 3.0l-3.0 -3.0zM482.4 199.0l3.0 3.0l-3.0 3.0l-3.0 -3.0zM483.3 199.6l3.0 3.0l-3.0 3.0l-3.0 -3.0zM484.1 199.6l3.0 3.0l-3.0 3.0l-3.0 -3.0zM485.0 199.7l3.0 3.0l-3.0 3.0l-3.0 -3.0zM485.9 199.9l3.0 3.0l-3.0 3.0l-3.0 -3.0zM486.8 200.0l3.0 3.0l-3.0 3.0l-3.0 -3.0zM487.7 200.2l3.0 3.0l-3.0 3.0l-3.0 -3.0zM488.6 200.3l3.0 3.0l-3.0 3.0l-3.0 -3.0zM489.4 200.6l3.0 3.0l-3.0 3.0l-3.0 -3.0zM490.3 200.6l3.0 3.0l-3.0 3.0l-3.0 -3.0zM491.2 200.8l3.0 3.0l-3.0 3.0l-3.0 -3.0zM492.1 200.8l3.0 3.0l-3.0 3.0l-3.0 -3.0zM493.0 201.1l3.0 3.0l-3.0 3.0l-3.0 -3.0zM493.9 201.1l3.0 3.0l-3.0 3.0l-3.0 -3.0zM494.7 201.3l3.0 3.0l-3.0 3.0l-3.0 -3.0zM495.6 201.6l3.0 3.0l-3.0 3.0l-3.0 -3.0zM496.5 201.6l3.0 3.0l-3.0 3.0l-3.0 -3.0zM497.4 201.7l3.0 3.0l-3.0 3.0l-3.0 -3.0zM498.3 201.8l3.0 3.0l-3.0 3.0l-3.0 -3.0zM499.2 201.8l3.0 3.0l-3.0 3.0l-3.0 -3.0zM500.0 201.9l3.0 3.0l-3.0 3.0l-3.0 -3.0zM500.9 202.0l3.0 3.0l-3.0 3.0l-3.0 -3.0zM501.8 202.3l3.0 3.0l-3.0 3.0l-3.0 -3.0zM502.7 202.2l3.0 3.0l-3.0 3.0l-3.0 -3.0zM503.6 202.6l3.0 3.0l-3.0 3.0l-3.0 -3.0zM504.4 202.5l3.0 3.0l-3.0 3.0l-3.0 -3.0zM505.3 202.5l3.0 3.0l-3.0 3.0l-3.0 -3.0zM506.2 202.6l3.0 3.0l-3.0 3.0l-3.0 -3.0zM507.1 202.7l3.0 3.0l-3.0 3.0l-3.0 -3.0zM508.0 202.9l3.0 3.0l-3.0 3.0l-3.0 -3.0zM508.9 202.8l3.0 3.0l-3.0 3.0l-3.0 -3.0zM509.7 203.1l3.0 3.0l-3.0 3.0l-3.0 -3.0zM510.6 203.0l3.0 3.0l-3.0 3.0l-3.0 -3.0zM511.5 202.8l3.0 3.0l-3.0 3.0l-3.0 -3.0zM512.4 203.1l3.0 3.0l-3.0 3.0l-3.0 -3.0zM513.3 203.0l3.0 3.0l-3.0 3.0l-3.0 -3.0zM514.2 203.3l3.0 3.0l-3.0 3.0l-3.0 -3.0zM515.0 203.5l3.0 3.0l-3.0 3.0l-3.0 -3.0zM515.9 203.5l3.0 3.0l-3.0 3.0l-3.0 -3.0zM516.8 203.3l3.0 3.0l-3.0 3.0l-3.0 -3.0zM517.7 203.5l3.0 3.0l-3.0 3.0l-3.0 -3.0zM518.6 203.8l3.0 3.0l-3.0 3.0l-3.0 -3.0zM519.4 203.7l3.0 3.0l-3.0 3.0l-3.0 -3.0zM520.3 203.7l3.0 3.0l-3.0 3.0l-3.0 -3.0zM521.2 203.9l3.0 3.0l-3.0 3.0l-3.0 -3.0zM522.1 204.1l3.0 3.0l-3.0 3.0l-3.0 -3.0zM523.0 204.0l3.0 3.0l-3.0 3.0l-3.0 -3.0zM523.9 203.8l3.0 3.0l-3.0 3.0l-3.0 -3.0zM524.7 203.8l3.0 3.0l-3.0 3.0l-3.0 -3.0zM525.6 203.9l3.0 3.0l-3.0 3.0l-3.0 -3.0zM526.5 203.7l3.0 3.0l-3.0 3.0l-3.0 -3.0zM527.4 203.7l3.0 3.0l-3.0 3.0l-3.0 -3.0zM528.3 203.9l3.0 3.0l-3.0 3.0l-3.0 -3.0zM529.2 203.9l3.0 3.0l-3.0 3.0l-3.0 -3.0zM530.0 204.0l3.0 3.0l-3.0 3.0l-3.0 -3.0zM530.9 204.1l3.0 3.0l-3.0 3.0l-3.0 -3.0zM531.8 204.4l3.0 3.0l-3.0 3.0l-3.0 -3.0zM532.7 204.1l3.0 3.0l-3.0 3.0l-3.0 -3.0zM533.6 204.2l3.0 3.0l-3.0 3.0l-3.0 -3.0zM534.5 204.3l3.0 3.0l-3.0 3.0l-3.0 -3.0zM535.3 204.4l3.0 3.0l-3.0 3.0l-3.0 -3.0zM536.2 204.5l3.0 3.0l-3.0 3.0l-3.0 -3.0zM537.1 204.4l3.0 3.0l-3.0 3.0l-3.0 -3.0z"/>
<path fill="none" stroke="#e00000" stroke-width="0.8" d="M332.4 207.6L333.4 207.6L334.4 207.6L335.4 207.6L336.4 207.6L337.4 207.5L338.4 207.5L339.4 207.5L340.4 207.5L341.4 207.5L342.4 207.5L343.4 207.5L344.4 207.5L345.4 207.4L346.4 207.4L347.4 207.4L348.4 207.4L349.4 207.4L350.4 207.4L351.4 207.4L352.4 207.3L353.4 207.3L354.4 207.3L355.4 207.3L356.4 207.2L357.4 207.2L358.4 207.2L359.4 207.2L360.4 207.1L361.4 207.1L362.4 207.1L363.4 207.1L364.4 207.0L365.4 207.0L366.4 207.0L367.4 206.9L368.4 206.9L369.4 206.8L370.4 206.8L371.4 206.7L372.4 206.7L373.4 206.7L374.4 206.7L375.4 206.7L376.4 206.7L377.4 206.6L378.4 206.6L379.4 206.5L380.4 206.4L381.4 206.3L382.4 206.3L383.4 206.2L384.4 206.1L385.4 205.9L386.4 205.8L387.4 205.7L388.4 205.5L389.4 205.3L390.4 205.1L391.4 204.9L392.4 204.7L393.4 204.4L394.4 204.2L395.4 203.9L396.4 203.7L397.4 203.4L398.4 203.0L399.4 202.7L400.4 202.3L401.4 201.8L402.4 201.4L403.4 200.8L404.4 200.2L405.4 199.6L406.4 198.9L407.4 198.2L408.4 197.4L409.4 196.5L410.4 195.5L411.4 194.5L412.4 193.4L413.4 192.1L414.4 190.8L415.4 189.3L416.4 187.8L417.4 186.1L418.4 184.3L419.4 182.4L420.4 180.4L421.4 178.3L422.4 176.0L423.4 173.5L424.4 170.8L425.4 167.9L426.4 164.8L427.4 161.4L428.4 157.9L429.4 154.2L430.4 150.4L431.4 146.6L432.4 142.9L433.4 139.1L434.4 135.5L435.4 131.9L436.4 128.4L437.4 125.0L438.4 121.6L439.4 118.3L440.4 115.1L441.4 112.2L442.4 109.5L443.4 107.3L444.4 105.8L445.4 105.4L446.4 106.2L447.4 107.8L448.4 110.0L449.4 112.7L450.4 116.0L451.4 119.6L452.4 123.6L453.4 127.9L454.4 132.4L455.4 137.1L456.4 141.9L457.4 146.8L458.4 151.6L459.4 156.3L460.4 160.9L461.4 165.2L462.4 169.1L463.4 172.8L464.4 176.2L465.4 179.3L466.4 182.1L467.4 184.7L468.4 187.0L469.4 189.2L470.4 191.1L471.4 192.9L472.4 194.4L473.4 195.8L474.4 197.0L475.4 198.0L476.4 198.9L477.4 199.7L478.4 200.3L479.4 200.8L480.4 201.3L481.4 201.7L482.4 202.0L483.4 202.3L484.4 202.5L485.4 202.8L486.4 203.0L487.4 203.2L488.4 203.4L489.4 203.5L490.4 203.7L491.4 203.9L492.4 204.0L493.4 204.2L494.4 204.3L495.4 204.4L496.4 204.5L497.4 204.6L498.4 204.8L499.4 204.9L500.4 205.0L501.4 205.1L502.4 205.2L503.4 205.4L504.4 205.5L505.4 205.6L506.4 205.7L507.4 205.8L508.4 205.9L509.4 206.0L510.4 206.0L511.4 206.1L512.4 206.2L513.4 206.2L514.4 206.3L515.4 206.4L516.4 206.5L517.4 206.5L518.4 206.6L519.4 206.7L520.4 206.7L521.4 206.8L522.4 206.8L523.4 206.9L524.4 206.8L525.4 206.8L526.4 206.8L527.4 206.9L528.4 206.9L529.4 207.0L530.4 207.1L531.4 207.1L532.4 207.2L533.4 207.2L534.4 207.3L535.4 207.3L536.4 207.4"/>
<path fill="#0000ff" d="M332.0 156.9l3.0 3.0l-3.0 3.0l-3.0 -3.0zM332.9 156.8l3.0 3.0l-3.0 3.0l-3.0 -3.0zM333.8 156.8l3.0 3.0l-3.0 3.0l-3.0 -3.0zM334.7 157.0l3.0 3.0l-3.0 3.0l-3.0 -3.0zM335.5 156.9l3.0 3.0l-3.0 3.0l-3.0 -3.0zM336.4 156.7l3.0 3.0l-3.0 3.0l-3.0 -3.0zM337.3 156.8l3.0 3.0l-3.0 3.0l-3.0 -3.0zM338.2 156.8l3.0 3.0l-3.0 3.0l-3.0 -3.0zM339.1 156.8l3.0 3.0l-3.0 3.0l-3.0 -3.0zM339.9 156.7l3.0 3.0l-3.0 3.0l-3.0 -3.0zM340.8 156.7l3.0 3.0l-3.0 3.0l-3.0 -3.0zM341.7 156.5l3.0 3.0l-3.0 3.0l-3.0 -3.0zM342.6 156.5l3.0 3.0l-3.0 3.0l-3.0 -3.0zM343.5 156.8l3.0 3.0l-3.0 3.0l-3.0 -3.0zM344.4 156.3l3.0 3.0l-3.0 3.0l-3.0 -3.0zM345.2 156.5l3.0 3.0l-3.0 3.0l-3.0 -3.0zM346.1 156.6l3.0 3.0l-3.0 3.0l-3.0 -3.0zM347.0 156.5l3.0 3.0l-3.0 3.0l-3.0 -3.0zM347.9 156.4l3.0 3.0l-3.0 3.0l-3.0 -3.0zM348.8 156.6l3.0 3.0l-3.0 3.0l-3.0 -3.0zM349.7 156.6l3.0 3.0l-3.0 3.0l-3.0 -3.0zM350.5 156.6l3.0 3.0l-3.0 3.0l-3.0 -3.0zM351.4 156.3l3.0 3.0l-3.0 3.0l-3.0 -3.0zM352.3 156.5l3.0 3.0l-3.0 3.0l-3.0 -3.0zM353.2 156.4l3.0 3.0l-3.0 3.0l-3.0 -3.0zM354.1 156.4l3.0 3.0l-3.0 3.0l-3.0 -3.0zM355.0 156.5l3.0 3.0l-3.0 3.0l-3.0 -3.0zM355.8 156.5l3.0 3.0l-3.0 3.0l-3.0 -3.0zM356.7 156.5l3.0 3.0l-3.0 3.0l-3.0 -3.0zM357.6 156.3l3.0 3.0l-3.0 3.0l-3.0 -3.0zM358.5 156.4l3.0 3.0l-3.0 3.0l-3.0 -3.0zM359.4 156.4l3.0 3.0l-3.0 3.0l-3.0 -3.0zM360.2 156.4l3.0 3.0l-3.0 3.0l-3.0 -3.0zM361.1 156.4l3.0 3.0l-3.0 3.0l-3.0 -3.0zM362.0 156.1l3.0 3.0l-3.0 3.0l-3.0 -3.0zM362.9 156.1l3.0 3.0l-3.0 3.0l-3.0 -3.0zM363.8 156.2l3.0 3.0l-3.0 3.0l-3.0 -3.0zM364.7 155.8l3.0 3.0l-3.0 3.0l-3.0 -3.0zM365.5 156.0l3.0 3.0l-3.0 3.0l-3.0 -3.0zM366.4 155.9l3.0 3.0l-3.0 3.0l-3.0 -3.0zM367.3 155.8l3.0 3.0l-3.0 3.0l-3.0 -3.0zM368.2 155.6l3.0 3.0l-3.0 3.0l-3.0 -3.0zM369.1 155.7l3.0 3.0l-3.0 3.0l-3.0 -3.0zM370.0 155.7l3.0 3.0l-3.0 3.0l-3.0 -3.0zM370.8 155.8l3.0 3.0l-3.0 3.0l-3.0 -3.0zM371.7 155.8l3.0 3.0l-3.0 3.0l-3.0 -3.0zM372.6 155.6l3.0 3.0l-3.0 3.0l-3.0 -3.0zM373.5 155.5l3.0 3.0l-3.0 3.0l-3.0 -3.0zM374.4 155.4l3.0 3.0l-3.0 3.0l-3.0 -3.0zM375.2 155.4l3.0 3.0l-3.0 3.0l-3.0 -3.0zM376.1 155.3l3.0 3.0l-3.0 3.0l-3.0 -3.0zM377.0 155.3l3.0 3.0l-3.0 3.0l-3.0 -3.0zM377.9 155.4l3.0 3.0l-3.0 3.0l-3.0 -3.0zM378.8 155.1l3.0 3.0l-3.0 3.0l-3.0 -3.0zM379.7 154.9l3.0 3.0l-3.0 3.0l-3.0 -3.0zM380.5 154.9l3.0 3.0l-3.0 3.0l-3.0 -3.0zM381.4 154.7l3.0 3.0l-3.0 3.0l-3.0 -3.0zM382.3 154.7l3.0 3.0l-3.0 3.0l-3.0 -3.0zM383.2 154.9l3.0 3.0l-3.0 3.0l-3.0 -3.0zM384.1 154.7l3.0 3.0l-3.0 3.0l-3.0 -3.0zM385.0 154.4l3.0 3.0l-3.0 3.0l-3.0 -3.0zM385.8 154.6l3.0 3.0l-3.0 3.0l-3.0 -3.0zM386.7 154.6l3.0 3.0l-3.0 3.0l-3.0 -3.0zM387.6 154.2l3.0 3.0l-3.0 3.0l-3.0 -3.0zM388.5 154.1l3.0 3.0l-3.0 3.0l-3.0 -3.0zM389.4 154.0l3.0 3.0l-3.0 3.0l-3.0 -3.0zM390.3 153.9l3.0 3.0l-3.0 3.0l-3.0 -3.0zM391.1 153.8l3.0 3.0l-3.0 3.0l-3.0 -3.0zM392.0 153.7l3.0 3.0l-3.0 3.0l-3.0 -3.0zM392.9 153.6l3.0 3.0l-3.0 3.0l-3.0 -3.0zM393.8 153.4l3.0 3.0l-3.0 3.0l-3.0 -3.0zM394.7 153.2l3.0 3.0l-3.0 3.0l-3.0 -3.0zM395.5 153.0l3.0 3.0l-3.0 3.0l-3.0 -3.0zM396.4 152.5l3.0 3.0l-3.0 3.0l-3.0 -3.0zM397.3 152.5l3.0 3.0l-3.0 3.0l-3.0 -3.0zM398.2 152.3l3.0 3.0l-3.0 3.0l-3.0 -3.0zM399.1 152.0l3.0 3.0l-3.0 3.0l-3.0 -3.0zM400.0 151.9l3.0 3.0l-3.0 3.0l-3.0 -3.0zM400.8 151.4l3.0 3.0l-3.0 3.0l-3.0 -3.0zM401.7 151.1l3.0 3.0l-3.0 3.0l-3.0 -3.0zM402.6 151.1l3.0 3.0l-3.0 3.0l-3.0 -3.0zM403.5 150.6l3.0 3.0l-3.0 3.0l-3.0 -3.0zM404.4 150.2l3.0 3.0l-3.0 3.0l-3.0 -3.0zM405.3 149.8l3.0 3.0l-3.0 3.0l-3.0 -3.0zM406.1 149.4l3.0 3.0l-3.0 3.0l-3.0 -3.0zM407.0 148.8l3.0 3.0l-3.0 3.0l-3.0 -3.0zM407.9 147.8l3.0 3.0l-3.0 3.0l-3.0 -3.0zM408.8 147.4l3.0 3.0l-3.0 3.0l-3.0 -3.0zM409.7 146.8l3.0 3.0l-3.0 3.0l-3.0 -3.0zM410.5 145.9l3.0 3.0l-3.0 3.0l-3.0 -3.0zM411.4 145.2l3.0 3.0l-3.0 3.0l-3.0 -3.0zM412.3 144.4l3.0 3.0l-3.0 3.0l-3.0 -3.0zM413.2 143.1l3.0 3.0l-3.0 3.0l-3.0 -3.0zM414.1 141.9l3.0 3.0l-3.0 3.0l-3.0 -3.0zM415.0 141.2l3.0 3.0l-3.0 3.0l-3.0 -3.0zM415.8 139.4l3.0 3.0l-3.0 3.0l-3.0 -3.0zM416.7 137.9l3.0 3.0l-3.0 3.0l-3.0 -3.0zM417.6 136.6l3.0 3.0l-3.0 3.0l-3.0 -3.0zM418.5 135.0l3.0 3.0l-3.0 3.0l-3.0 -3.0zM419.4 133.1l3.0 3.0l-3.0 3.0l-3.0 -3.0zM420.3 131.6l3.0 3.0l-3.0 3.0l-3.0 -3.0zM421.1 129.5l3.0 3.0l-3.0 3.0l-3.0 -3.0zM422.0 127.4l3.0 3.0l-3.0 3.0l-3.0 -3.0zM422.9 125.5l3.0 3.0l-3.0 3.0l-3.0 -3.0zM423.8 123.4l3.0 3.0l-3.0 3.0l-3.0 -3.0zM424.7 120.8l3.0 3.0l-3.0 3.0l-3.0 -3.0zM425.6 118.5l3.0 3.0l-3.0 3.0l-3.0 -3.0zM426.4 115.7l3.0 3.0l-3.0 3.0l-3.0 -3.0zM427.3 113.5l3.0 3.0l-3.0 3.0l-3.0 -3.0zM428.2 109.7l3.0 3.0l-3.0 3.0l-3.0 -3.0zM429.1 107.1l3.0 3.0l-3.0 3.0l-3.0 -3.0zM430.0 103.6l3.0 3.0l-3.0 3.0l-3.0 -3.0zM430.8 100.4l3.0 3.0l-3.0 3.0l-3.0 -3.0zM431.7 97.4l3.0 3.0l-3.0 3.0l-3.0 -3.0zM432.6 94.3l3.0 3.0l-3.0 3.0l-3.0 -3.0zM433.5 91.3l3.0 3.0l-3.0 3.0l-3.0 -3.0zM434.4 87.9l3.0 3.0l-3.0 3.0l-3.0 -3.0zM435.3 84.5l3.0 3.0l-3.0 3.0l-3.0 -3.0zM436.1 81.4l3.0 3.0l-3.0 3.0l-3.0 -3.0zM437.0 78.6l3.0 3.0l-3.0 3.0l-3.0 -3.0zM437.9 75.6l3.0 3.0l-3.0 3.0l-3.0 -3.0zM438.8 73.0l3.0 3.0l-3.0 3.0l-3.0 -3.0zM439.7 69.9l3.0 3.0l-3.0 3.0l-3.0 -3.0zM440.6 67.4l3.0 3.0l-3.0 3.0l-3.0 -3.0zM441.4 65.1l3.0 3.0l-3.0 3.0l-3.0 -3.0zM442.3 62.4l3.0 3.0l-3.0 3.0l-3.0 -3.0zM443.2 59.9l3.0 3.0l-3.0 3.0l-3.0 -3.0zM444.1 58.5l3.0 3.0l-3.0 3.0l-3.0 -3.0zM445.0 57.2l3.0 3.0l-3.0 3.0l-3.0 -3.0zM445.8 57.8l3.0 3.0l-3.0 3.0l-3.0 -3.0zM446.7 57.1l3.0 3.0l-3.0 3.0l-3.0 -3.0zM447.6 58.6l3.0 3.0l-3.0 3.0l-3.0 -3.0zM448.5 59.6l3.0 3.0l-3.0 3.0l-3.0 -3.0zM449.4 61.7l3.0 3.0l-3.0 3.0l-3.0 -3.0zM450.3 63.5l3.0 3.0l-3.0 3.0l-3.0 -3.0zM451.1 65.5l3.0 3.0l-3.0 3.0l-3.0 -3.0zM452.0 68.2l3.0 3.0l-3.0 3.0l-3.0 -3.0zM452.9 71.3l3.0 3.0l-3.0 3.0l-3.0 -3.0zM453.8 74.5l3.0 3.0l-3.0 3.0l-3.0 -3.0zM454.7 77.7l3.0 3.0l-3.0 3.0l-3.0 -3.0zM455.6 81.4l3.0 3.0l-3.0 3.0l-3.0 -3.0zM456.4 85.6l3.0 3.0l-3.0 3.0l-3.0 -3.0zM457.3 88.5l3.0 3.0l-3.0 3.0l-3.0 -3.0zM458.2 92.9l3.0 3.0l-3.0 3.0l-3.0 -3.0zM459.1 96.5l3.0 3.0l-3.0 3.0l-3.0 -3.0zM460.0 100.7l3.0 3.0l-3.0 3.0l-3.0 -3.0zM460.9 104.8l3.0 3.0l-3.0 3.0l-3.0 -3.0zM461.7 108.4l3.0 3.0l-3.0 3.0l-3.0 -3.0zM462.6 112.3l3.0 3.0l-3.0 3.0l-3.0 -3.0zM463.5 115.2l3.0 3.0l-3.0 3.0l-3.0 -3.0zM464.4 119.2l3.0 3.0l-3.0 3.0l-3.0 -3.0zM465.3 121.9l3.0 3.0l-3.0 3.0l-3.0 -3.0zM466.1 125.1l3.0 3.0l-3.0 3.0l-3.0 -3.0zM467.0 127.7l3.0 3.0l-3.0 3.0l-3.0 -3.0zM467.9 129.7l3.0 3.0l-3.0 3.0l-3.0 -3.0zM468.8 132.4l3.0 3.0l-3.0 3.0l-3.0 -3.0zM469.7 134.7l3.0 3.0l-3.0 3.0l-3.0 -3.0zM470.6 136.9l3.0 3.0l-3.0 3.0l-3.0 -3.0zM471.4 138.5l3.0 3.0l-3.0 3.0l-3.0 -3.0zM472.3 140.2l3.0 3.0l-3.0 3.0l-3.0 -3.0zM473.2 141.4l3.0 3.0l-3.0 3.0l-3.0 -3.0zM474.1 143.3l3.0 3.0l-3.0 3.0l-3.0 -3.0zM475.0 144.6l3.0 3.0l-3.0 3.0l-3.0 -3.0zM475.9 145.4l3.0 3.0l-3.0 3.0l-3.0 -3.0zM476.7 146.4l3.0 3.0l-3.0 3.0l-3.0 -3.0zM477.6 147.2l3.0 3.0l-3.0 3.0l-3.0 -3.0zM478.5 148.4l3.0 3.0l-3.0 3.0l-3.0 -3.0zM479.4 149.4l3.0 3.0l-3.0 3.0l-3.0 -3.0zM480.3 149.9l3.0 3.0l-3.0 3.0l-3.0 -3.0zM481.1 150.6l3.0 3.0l-3.0 3.0l-3.0 -3.0zM482.0 151.0l3.0 3.0l-3.0 3.0l-3.0 -3.0zM482.9 151.3l3.0 3.0l-3.0 3.0l-3.0 -3.0zM483.8 152.0l3.0 3.0l-3.0 3.0l-3.0 -3.0zM484.7 152.0l3.0 3.0l-3.0 3.0l-3.0 -3.0zM485.6 152.4l3.0 3.0l-3.0 3.0l-3.0 -3.0zM486.4 152.7l3.0 3.0l-3.0 3.0l-3.0 -3.0zM487.3 153.0l3.0 3.0l-3.0 3.0l-3.0 -3.0zM488.2 153.1l3.0 3.0l-3.0 3.0l-3.0 -3.0zM489.1 153.3l3.0 3.0l-3.0 3.0l-3.0 -3.0zM490.0 153.4l3.0 3.0l-3.0 3.0l-3.0 -3.0zM490.9 153.4l3.0 3.0l-3.0 3.0l-3.0 -3.0zM491.7 153.8l3.0 3.0l-3.0 3.0l-3.0 -3.0zM492.6 153.8l3.0 3.0l-3.0 3.0l-3.0 -3.0zM493.5 153.9l3.0 3.0l-3.0 3.0l-3.0 -3.0zM494.4 154.0l3.0 3.0l-3.0 3.0l-3.0 -3.0zM495.3 154.3l3.0 3.0l-3.0 3.0l-3.0 -3.0zM496.2 154.2l3.0 3.0l-3.0 3.0l-3.0 -3.0zM497.0 154.4l3.0 3.0l-3.0 3.0l-3.0 -3.0zM497.9 154.5l3.0 3.0l-3.0 3.0l-3.0 -3.0zM498.8 154.8l3.0 3.0l-3.0 3.0l-3.0 -3.0zM499.7 154.9l3.0 3.0l-3.0 3.0l-3.0 -3.0zM500.6 155.2l3.0 3.0l-3.0 3.0l-3.0 -3.0zM501.4 154.9l3.0 3.0l-3.0 3.0l-3.0 -3.0zM502.3 155.1l3.0 3.0l-3.0 3.0l-3.0 -3.0zM503.2 155.5l3.0 3.0l-3.0 3.0l-3.0 -3.0zM504.1 155.5l3.0 3.0l-3.0 3.0l-3.0 -3.0zM505.0 155.5l3.0 3.0l-3.0 3.0l-3.0 -3.0zM505.9 155.9l3.0 3.0l-3.0 3.0l-3.0 -3.0zM506.7 155.7l3.0 3.0l-3.0 3.0l-3.0 -3.0zM507.6 155.7l3.0 3.0l-3.0 3.0l-3.0 -3.0zM508.5 155.7l3.0 3.0l-3.0 3.0l-3.0 -3.0zM509.4 156.0l3.0 3.0l-3.0 3.0l-3.0 -3.0zM510.3 156.1l3.0 3.0l-3.0 3.0l-3.0 -3.0zM511.2 155.9l3.0 3.0l-3.0 3.0l-3.0 -3.0zM512.0 156.0l3.0 3.0l-3.0 3.0l-3.0 -3.0zM512.9 156.3l3.0 3.0l-3.0 3.0l-3.0 -3.0zM513.8 156.3l3.0 3.0l-3.0 3.0l-3.0 -3.0zM514.7 156.2l3.0 3.0l-3.0 3.0l-3.0 -3.0zM515.6 156.5l3.0 3.0l-3.0 3.0l-3.0 -3.0zM516.4 156.5l3.0 3.0l-3.0 3.0l-3.0 -3.0zM517.3 156.3l3.0 3.0l-3.0 3.0l-3.0 -3.0zM518.2 156.5l3.0 3.0l-3.0 3.0l-3.0 -3.0zM519.1 156.7l3.0 3.0l-3.0 3.0l-3.0 -3.0zM520.0 156.6l3.0 3.0l-3.0 3.0l-3.0 -3.0zM520.9 156.5l3.0 3.0l-3.0 3.0l-3.0 -3.0zM521.7 156.7l3.0 3.0l-3.0 3.0l-3.0 -3.0zM522.6 156.9l3.0 3.0l-3.0 3.0l-3.0 -3.0zM523.5 157.0l3.0 3.0l-3.0 3.0l-3.0 -3.0zM524.4 156.5l3.0 3.0l-3.0 3.0l-3.0 -3.0zM525.3 157.1l3.0 3.0l-3.0 3.0l-3.0 -3.0zM526.2 156.7l3.0 3.0l-3.0 3.0l-3.0 -3.0zM527.0 157.0l3.0 3.0l-3.0 3.0l-3.0 -3.0zM527.9 157.0l3.0 3.0l-3.0 3.0l-3.0 -3.0zM528.8 157.1l3.0 3.0l-3.0 3.0l-3.0 -3.0zM529.7 157.0l3.0 3.0l-3.0 3.0l-3.0 -3.0zM530.6 156.9l3.0 3.0l-3.0 3.0l-3.0 -3.0zM531.5 157.2l3.0 3.0l-3.0 3.0l-3.0 -3.0zM532.3 157.0l3.0 3.0l-3.0 3.0l-3.0 -3.0zM533.2 156.9l3.0 3.0l-3.0 3.0l-3.0 -3.0zM534.1 157.6l3.0 3.0l-3.0 3.0l-3.0 -3.0zM535.0 157.3l3.0 3.0l-3.0 3.0l-3.0 -3.0zM535.9 157.5l3.0 3.0l-3.0 3.0l-3.0 -3.0zM536.7 157.2l3.0 3.0l-3.0 3.0l-3.0 -3.0z"/>
<path fill="none" stroke="#0a7a30" stroke-width="0.9" d="M332.0 160.0L333.0 160.0L334.0 159.9L335.0 159.9L336.0 159.9L337.0 159.8L338.0 159.8L339.0 159.8L340.0 159.8L341.0 159.7L342.0 159.7L343.0 159.7L344.0 159.6L345.0 159.6L346.0 159.6L347.0 159.5L348.0 159.5L349.0 159.6L350.0 159.6L351.0 159.6L352.0 159.6L353.0 159.5L354.0 159.5L355.0 159.4L356.0 159.4L357.0 159.4L358.0 159.3L359.0 159.3L360.0 159.2L361.0 159.2L362.0 159.1L363.0 159.1L364.0 159.0L365.0 159.0L366.0 159.0L367.0 158.9L368.0 158.8L369.0 158.8L370.0 158.7L371.0 158.7L372.0 158.6L373.0 158.6L374.0 158.5L375.0 158.4L376.0 158.3L377.0 158.2L378.0 158.2L379.0 158.1L380.0 158.0L381.0 157.9L382.0 157.9L383.0 157.8L384.0 157.7L385.0 157.6L386.0 157.5L387.0 157.4L388.0 157.2L389.0 157.1L390.0 156.9L391.0 156.7L392.0 156.6L393.0 156.4L394.0 156.2L395.0 156.0L396.0 155.8L397.0 155.6L398.0 155.3L399.0 155.0L400.0 154.8L401.0 154.4L402.0 154.1L403.0 153.7L404.0 153.3L405.0 152.8L406.0 152.3L407.0 151.7L408.0 151.1L409.0 150.3L410.0 149.5L411.0 148.6L412.0 147.6L413.0 146.4L414.0 145.2L415.0 143.8L416.0 142.2L417.0 140.6L418.0 138.8L419.0 137.0L420.0 135.0L421.0 132.9L422.0 130.6L423.0 128.2L424.0 125.7L425.0 123.0L426.0 120.0L427.0 116.9L428.0 113.5L429.0 110.0L430.0 106.4L431.0 102.8L432.0 99.3L433.0 95.7L434.0 92.1L435.0 88.5L436.0 85.0L437.0 81.5L438.0 78.1L439.0 74.8L440.0 71.7L441.0 68.8L442.0 66.1L443.0 63.8L444.0 62.0L445.0 60.7L446.0 60.2L447.0 60.6L448.0 61.7L449.0 63.3L450.0 65.5L451.0 68.1L452.0 71.2L453.0 74.6L454.0 78.3L455.0 82.2L456.0 86.3L457.0 90.6L458.0 95.0L459.0 99.4L460.0 103.9L461.0 108.3L462.0 112.5L463.0 116.6L464.0 120.5L465.0 124.2L466.0 127.5L467.0 130.6L468.0 133.5L469.0 136.1L470.0 138.5L471.0 140.6L472.0 142.6L473.0 144.3L474.0 145.9L475.0 147.3L476.0 148.6L477.0 149.8L478.0 150.8L479.0 151.7L480.0 152.6L481.0 153.3L482.0 153.9L483.0 154.4L484.0 154.9L485.0 155.2L486.0 155.5L487.0 155.8L488.0 156.0L489.0 156.3L490.0 156.5L491.0 156.6L492.0 156.8L493.0 157.0L494.0 157.1L495.0 157.3L496.0 157.4L497.0 157.5L498.0 157.7L499.0 157.8L500.0 157.9L501.0 158.0L502.0 158.2L503.0 158.3L504.0 158.5L505.0 158.6L506.0 158.7L507.0 158.8L508.0 158.8L509.0 158.9L510.0 159.0L511.0 159.1L512.0 159.1L513.0 159.2L514.0 159.3L515.0 159.3L516.0 159.4L517.0 159.5L518.0 159.5L519.0 159.6L520.0 159.7L521.0 159.7L522.0 159.8L523.0 159.8L524.0 159.8L525.0 159.8L526.0 159.8L527.0 159.8L528.0 159.9L529.0 160.0L530.0 160.0L531.0 160.1L532.0 160.1L533.0 160.2L534.0 160.2L535.0 160.3L536.0 160.3"/>
<path fill="#0b9748" d="M335.0 109.2l3.0 3.0l-3.0 3.0l-3.0 -3.0zM335.9 109.2l3.0 3.0l-3.0 3.0l-3.0 -3.0zM336.8 109.2l3.0 3.0l-3.0 3.0l-3.0 -3.0zM337.7 109.0l3.0 3.0l-3.0 3.0l-3.0 -3.0zM338.5 108.8l3.0 3.0l-3.0 3.0l-3.0 -3.0zM339.4 108.9l3.0 3.0l-3.0 3.0l-3.0 -3.0zM340.3 108.7l3.0 3.0l-3.0 3.0l-3.0 -3.0zM341.2 108.7l3.0 3.0l-3.0 3.0l-3.0 -3.0zM342.1 108.9l3.0 3.0l-3.0 3.0l-3.0 -3.0zM342.9 108.8l3.0 3.0l-3.0 3.0l-3.0 -3.0zM343.8 108.9l3.0 3.0l-3.0 3.0l-3.0 -3.0zM344.7 108.8l3.0 3.0l-3.0 3.0l-3.0 -3.0zM345.6 109.1l3.0 3.0l-3.0 3.0l-3.0 -3.0zM346.5 109.0l3.0 3.0l-3.0 3.0l-3.0 -3.0zM347.4 108.8l3.0 3.0l-3.0 3.0l-3.0 -3.0zM348.2 108.9l3.0 3.0l-3.0 3.0l-3.0 -3.0zM349.1 108.7l3.0 3.0l-3.0 3.0l-3.0 -3.0zM350.0 108.7l3.0 3.0l-3.0 3.0l-3.0 -3.0zM350.9 108.8l3.0 3.0l-3.0 3.0l-3.0 -3.0zM351.8 108.5l3.0 3.0l-3.0 3.0l-3.0 -3.0zM352.7 108.6l3.0 3.0l-3.0 3.0l-3.0 -3.0zM353.5 108.5l3.0 3.0l-3.0 3.0l-3.0 -3.0zM354.4 108.6l3.0 3.0l-3.0 3.0l-3.0 -3.0zM355.3 108.8l3.0 3.0l-3.0 3.0l-3.0 -3.0zM356.2 108.5l3.0 3.0l-3.0 3.0l-3.0 -3.0zM357.1 108.6l3.0 3.0l-3.0 3.0l-3.0 -3.0zM358.0 108.4l3.0 3.0l-3.0 3.0l-3.0 -3.0zM358.8 108.4l3.0 3.0l-3.0 3.0l-3.0 -3.0zM359.7 108.3l3.0 3.0l-3.0 3.0l-3.0 -3.0zM360.6 108.6l3.0 3.0l-3.0 3.0l-3.0 -3.0zM361.5 108.7l3.0 3.0l-3.0 3.0l-3.0 -3.0zM362.4 108.5l3.0 3.0l-3.0 3.0l-3.0 -3.0zM363.2 108.3l3.0 3.0l-3.0 3.0l-3.0 -3.0zM364.1 108.4l3.0 3.0l-3.0 3.0l-3.0 -3.0zM365.0 108.3l3.0 3.0l-3.0 3.0l-3.0 -3.0zM365.9 108.4l3.0 3.0l-3.0 3.0l-3.0 -3.0zM366.8 108.3l3.0 3.0l-3.0 3.0l-3.0 -3.0zM367.7 108.2l3.0 3.0l-3.0 3.0l-3.0 -3.0zM368.5 108.2l3.0 3.0l-3.0 3.0l-3.0 -3.0zM369.4 108.0l3.0 3.0l-3.0 3.0l-3.0 -3.0zM370.3 108.0l3.0 3.0l-3.0 3.0l-3.0 -3.0zM371.2 107.8l3.0 3.0l-3.0 3.0l-3.0 -3.0zM372.1 107.9l3.0 3.0l-3.0 3.0l-3.0 -3.0zM373.0 107.8l3.0 3.0l-3.0 3.0l-3.0 -3.0zM373.8 107.9l3.0 3.0l-3.0 3.0l-3.0 -3.0zM374.7 107.8l3.0 3.0l-3.0 3.0l-3.0 -3.0zM375.6 108.0l3.0 3.0l-3.0 3.0l-3.0 -3.0zM376.5 108.0l3.0 3.0l-3.0 3.0l-3.0 -3.0zM377.4 107.8l3.0 3.0l-3.0 3.0l-3.0 -3.0zM378.2 107.8l3.0 3.0l-3.0 3.0l-3.0 -3.0zM379.1 107.7l3.0 3.0l-3.0 3.0l-3.0 -3.0zM380.0 107.9l3.0 3.0l-3.0 3.0l-3.0 -3.0zM380.9 107.9l3.0 3.0l-3.0 3.0l-3.0 -3.0zM381.8 107.8l3.0 3.0l-3.0 3.0l-3.0 -3.0zM382.7 107.6l3.0 3.0l-3.0 3.0l-3.0 -3.0zM383.5 107.7l3.0 3.0l-3.0 3.0l-3.0 -3.0zM384.4 107.3l3.0 3.0l-3.0 3.0l-3.0 -3.0zM385.3 107.6l3.0 3.0l-3.0 3.0l-3.0 -3.0zM386.2 107.2l3.0 3.0l-3.0 3.0l-3.0 -3.0zM387.1 106.9l3.0 3.0l-3.0 3.0l-3.0 -3.0zM388.0 107.5l3.0 3.0l-3.0 3.0l-3.0 -3.0zM388.8 107.2l3.0 3.0l-3.0 3.0l-3.0 -3.0zM389.7 106.8l3.0 3.0l-3.0 3.0l-3.0 -3.0zM390.6 106.8l3.0 3.0l-3.0 3.0l-3.0 -3.0zM391.5 106.6l3.0 3.0l-3.0 3.0l-3.0 -3.0zM392.4 106.4l3.0 3.0l-3.0 3.0l-3.0 -3.0zM393.3 106.1l3.0 3.0l-3.0 3.0l-3.0 -3.0zM394.1 106.0l3.0 3.0l-3.0 3.0l-3.0 -3.0zM395.0 106.0l3.0 3.0l-3.0 3.0l-3.0 -3.0zM395.9 105.8l3.0 3.0l-3.0 3.0l-3.0 -3.0zM396.8 105.8l3.0 3.0l-3.0 3.0l-3.0 -3.0zM397.7 105.5l3.0 3.0l-3.0 3.0l-3.0 -3.0zM398.5 105.6l3.0 3.0l-3.0 3.0l-3.0 -3.0zM399.4 105.0l3.0 3.0l-3.0 3.0l-3.0 -3.0zM400.3 105.0l3.0 3.0l-3.0 3.0l-3.0 -3.0zM401.2 104.5l3.0 3.0l-3.0 3.0l-3.0 -3.0zM402.1 104.4l3.0 3.0l-3.0 3.0l-3.0 -3.0zM403.0 104.6l3.0 3.0l-3.0 3.0l-3.0 -3.0zM403.8 104.0l3.0 3.0l-3.0 3.0l-3.0 -3.0zM404.7 104.0l3.0 3.0l-3.0 3.0l-3.0 -3.0zM405.6 103.7l3.0 3.0l-3.0 3.0l-3.0 -3.0zM406.5 103.3l3.0 3.0l-3.0 3.0l-3.0 -3.0zM407.4 103.1l3.0 3.0l-3.0 3.0l-3.0 -3.0zM408.3 102.7l3.0 3.0l-3.0 3.0l-3.0 -3.0zM409.1 102.4l3.0 3.0l-3.0 3.0l-3.0 -3.0zM410.0 102.2l3.0 3.0l-3.0 3.0l-3.0 -3.0zM410.9 101.7l3.0 3.0l-3.0 3.0l-3.0 -3.0zM411.8 101.1l3.0 3.0l-3.0 3.0l-3.0 -3.0zM412.7 100.5l3.0 3.0l-3.0 3.0l-3.0 -3.0zM413.5 100.0l3.0 3.0l-3.0 3.0l-3.0 -3.0zM414.4 99.3l3.0 3.0l-3.0 3.0l-3.0 -3.0zM415.3 98.7l3.0 3.0l-3.0 3.0l-3.0 -3.0zM416.2 98.1l3.0 3.0l-3.0 3.0l-3.0 -3.0zM417.1 96.8l3.0 3.0l-3.0 3.0l-3.0 -3.0zM418.0 95.7l3.0 3.0l-3.0 3.0l-3.0 -3.0zM418.8 94.5l3.0 3.0l-3.0 3.0l-3.0 -3.0zM419.7 93.1l3.0 3.0l-3.0 3.0l-3.0 -3.0zM420.6 91.7l3.0 3.0l-3.0 3.0l-3.0 -3.0zM421.5 90.2l3.0 3.0l-3.0 3.0l-3.0 -3.0zM422.4 88.6l3.0 3.0l-3.0 3.0l-3.0 -3.0zM423.3 86.8l3.0 3.0l-3.0 3.0l-3.0 -3.0zM424.1 85.0l3.0 3.0l-3.0 3.0l-3.0 -3.0zM425.0 82.6l3.0 3.0l-3.0 3.0l-3.0 -3.0zM425.9 80.4l3.0 3.0l-3.0 3.0l-3.0 -3.0zM426.8 77.7l3.0 3.0l-3.0 3.0l-3.0 -3.0zM427.7 75.6l3.0 3.0l-3.0 3.0l-3.0 -3.0zM428.6 72.5l3.0 3.0l-3.0 3.0l-3.0 -3.0zM429.4 69.7l3.0 3.0l-3.0 3.0l-3.0 -3.0zM430.3 66.3l3.0 3.0l-3.0 3.0l-3.0 -3.0zM431.2 63.1l3.0 3.0l-3.0 3.0l-3.0 -3.0zM432.1 59.1l3.0 3.0l-3.0 3.0l-3.0 -3.0zM433.0 55.7l3.0 3.0l-3.0 3.0l-3.0 -3.0zM433.8 52.4l3.0 3.0l-3.0 3.0l-3.0 -3.0zM434.7 47.4l3.0 3.0l-3.0 3.0l-3.0 -3.0zM435.6 44.0l3.0 3.0l-3.0 3.0l-3.0 -3.0zM436.5 40.2l3.0 3.0l-3.0 3.0l-3.0 -3.0zM437.4 35.8l3.0 3.0l-3.0 3.0l-3.0 -3.0zM438.3 32.0l3.0 3.0l-3.0 3.0l-3.0 -3.0zM439.1 28.4l3.0 3.0l-3.0 3.0l-3.0 -3.0zM440.0 24.1l3.0 3.0l-3.0 3.0l-3.0 -3.0zM440.9 21.0l3.0 3.0l-3.0 3.0l-3.0 -3.0zM441.8 17.4l3.0 3.0l-3.0 3.0l-3.0 -3.0zM442.7 14.6l3.0 3.0l-3.0 3.0l-3.0 -3.0zM443.6 12.1l3.0 3.0l-3.0 3.0l-3.0 -3.0zM444.4 10.0l3.0 3.0l-3.0 3.0l-3.0 -3.0zM445.3 8.2l3.0 3.0l-3.0 3.0l-3.0 -3.0zM446.2 6.9l3.0 3.0l-3.0 3.0l-3.0 -3.0zM447.1 5.1l3.0 3.0l-3.0 3.0l-3.0 -3.0zM448.0 5.7l3.0 3.0l-3.0 3.0l-3.0 -3.0zM448.8 5.1l3.0 3.0l-3.0 3.0l-3.0 -3.0zM449.7 4.9l3.0 3.0l-3.0 3.0l-3.0 -3.0zM450.6 5.2l3.0 3.0l-3.0 3.0l-3.0 -3.0zM451.5 6.7l3.0 3.0l-3.0 3.0l-3.0 -3.0zM452.4 8.7l3.0 3.0l-3.0 3.0l-3.0 -3.0zM453.3 11.0l3.0 3.0l-3.0 3.0l-3.0 -3.0zM454.1 12.9l3.0 3.0l-3.0 3.0l-3.0 -3.0zM455.0 16.9l3.0 3.0l-3.0 3.0l-3.0 -3.0zM455.9 21.0l3.0 3.0l-3.0 3.0l-3.0 -3.0zM456.8 23.0l3.0 3.0l-3.0 3.0l-3.0 -3.0zM457.7 27.8l3.0 3.0l-3.0 3.0l-3.0 -3.0zM458.6 31.6l3.0 3.0l-3.0 3.0l-3.0 -3.0zM459.4 35.6l3.0 3.0l-3.0 3.0l-3.0 -3.0zM460.3 40.2l3.0 3.0l-3.0 3.0l-3.0 -3.0zM461.2 43.6l3.0 3.0l-3.0 3.0l-3.0 -3.0zM462.1 48.1l3.0 3.0l-3.0 3.0l-3.0 -3.0zM463.0 52.5l3.0 3.0l-3.0 3.0l-3.0 -3.0zM463.9 56.0l3.0 3.0l-3.0 3.0l-3.0 -3.0zM464.7 59.8l3.0 3.0l-3.0 3.0l-3.0 -3.0zM465.6 63.6l3.0 3.0l-3.0 3.0l-3.0 -3.0zM466.5 67.1l3.0 3.0l-3.0 3.0l-3.0 -3.0zM467.4 70.9l3.0 3.0l-3.0 3.0l-3.0 -3.0zM468.3 73.6l3.0 3.0l-3.0 3.0l-3.0 -3.0zM469.1 77.0l3.0 3.0l-3.0 3.0l-3.0 -3.0zM470.0 79.5l3.0 3.0l-3.0 3.0l-3.0 -3.0zM470.9 82.6l3.0 3.0l-3.0 3.0l-3.0 -3.0zM471.8 84.9l3.0 3.0l-3.0 3.0l-3.0 -3.0zM472.7 86.8l3.0 3.0l-3.0 3.0l-3.0 -3.0zM473.6 89.5l3.0 3.0l-3.0 3.0l-3.0 -3.0zM474.4 91.3l3.0 3.0l-3.0 3.0l-3.0 -3.0zM475.3 93.3l3.0 3.0l-3.0 3.0l-3.0 -3.0zM476.2 95.3l3.0 3.0l-3.0 3.0l-3.0 -3.0zM477.1 96.4l3.0 3.0l-3.0 3.0l-3.0 -3.0zM478.0 97.7l3.0 3.0l-3.0 3.0l-3.0 -3.0zM478.9 99.3l3.0 3.0l-3.0 3.0l-3.0 -3.0zM479.7 100.2l3.0 3.0l-3.0 3.0l-3.0 -3.0zM480.6 101.4l3.0 3.0l-3.0 3.0l-3.0 -3.0zM481.5 102.1l3.0 3.0l-3.0 3.0l-3.0 -3.0zM482.4 102.7l3.0 3.0l-3.0 3.0l-3.0 -3.0zM483.3 103.5l3.0 3.0l-3.0 3.0l-3.0 -3.0zM484.1 104.3l3.0 3.0l-3.0 3.0l-3.0 -3.0zM485.0 104.8l3.0 3.0l-3.0 3.0l-3.0 -3.0zM485.9 105.2l3.0 3.0l-3.0 3.0l-3.0 -3.0zM486.8 105.6l3.0 3.0l-3.0 3.0l-3.0 -3.0zM487.7 105.9l3.0 3.0l-3.0 3.0l-3.0 -3.0zM488.6 106.2l3.0 3.0l-3.0 3.0l-3.0 -3.0zM489.4 106.8l3.0 3.0l-3.0 3.0l-3.0 -3.0zM490.3 106.8l3.0 3.0l-3.0 3.0l-3.0 -3.0zM491.2 106.9l3.0 3.0l-3.0 3.0l-3.0 -3.0zM492.1 107.2l3.0 3.0l-3.0 3.0l-3.0 -3.0zM493.0 107.5l3.0 3.0l-3.0 3.0l-3.0 -3.0zM493.9 107.6l3.0 3.0l-3.0 3.0l-3.0 -3.0zM494.7 107.7l3.0 3.0l-3.0 3.0l-3.0 -3.0zM495.6 107.7l3.0 3.0l-3.0 3.0l-3.0 -3.0zM496.5 107.9l3.0 3.0l-3.0 3.0l-3.0 -3.0zM497.4 107.8l3.0 3.0l-3.0 3.0l-3.0 -3.0zM498.3 107.9l3.0 3.0l-3.0 3.0l-3.0 -3.0zM499.2 108.3l3.0 3.0l-3.0 3.0l-3.0 -3.0zM500.0 108.1l3.0 3.0l-3.0 3.0l-3.0 -3.0zM500.9 108.3l3.0 3.0l-3.0 3.0l-3.0 -3.0zM501.8 108.4l3.0 3.0l-3.0 3.0l-3.0 -3.0zM502.7 108.4l3.0 3.0l-3.0 3.0l-3.0 -3.0zM503.6 108.4l3.0 3.0l-3.0 3.0l-3.0 -3.0zM504.4 108.7l3.0 3.0l-3.0 3.0l-3.0 -3.0zM505.3 108.5l3.0 3.0l-3.0 3.0l-3.0 -3.0zM506.2 108.4l3.0 3.0l-3.0 3.0l-3.0 -3.0zM507.1 108.6l3.0 3.0l-3.0 3.0l-3.0 -3.0zM508.0 108.6l3.0 3.0l-3.0 3.0l-3.0 -3.0zM508.9 108.5l3.0 3.0l-3.0 3.0l-3.0 -3.0zM509.7 108.6l3.0 3.0l-3.0 3.0l-3.0 -3.0zM510.6 108.6l3.0 3.0l-3.0 3.0l-3.0 -3.0zM511.5 108.4l3.0 3.0l-3.0 3.0l-3.0 -3.0zM512.4 108.7l3.0 3.0l-3.0 3.0l-3.0 -3.0zM513.3 108.7l3.0 3.0l-3.0 3.0l-3.0 -3.0zM514.2 108.7l3.0 3.0l-3.0 3.0l-3.0 -3.0zM515.0 108.6l3.0 3.0l-3.0 3.0l-3.0 -3.0zM515.9 108.9l3.0 3.0l-3.0 3.0l-3.0 -3.0zM516.8 108.9l3.0 3.0l-3.0 3.0l-3.0 -3.0zM517.7 109.0l3.0 3.0l-3.0 3.0l-3.0 -3.0zM518.6 108.8l3.0 3.0l-3.0 3.0l-3.0 -3.0zM519.4 109.1l3.0 3.0l-3.0 3.0l-3.0 -3.0zM520.3 108.9l3.0 3.0l-3.0 3.0l-3.0 -3.0zM521.2 109.0l3.0 3.0l-3.0 3.0l-3.0 -3.0zM522.1 109.2l3.0 3.0l-3.0 3.0l-3.0 -3.0zM523.0 109.0l3.0 3.0l-3.0 3.0l-3.0 -3.0zM523.9 109.0l3.0 3.0l-3.0 3.0l-3.0 -3.0zM524.7 109.2l3.0 3.0l-3.0 3.0l-3.0 -3.0zM525.6 109.0l3.0 3.0l-3.0 3.0l-3.0 -3.0zM526.5 109.1l3.0 3.0l-3.0 3.0l-3.0 -3.0zM527.4 109.1l3.0 3.0l-3.0 3.0l-3.0 -3.0zM528.3 109.2l3.0 3.0l-3.0 3.0l-3.0 -3.0zM529.2 108.8l3.0 3.0l-3.0 3.0l-3.0 -3.0zM530.0 109.0l3.0 3.0l-3.0 3.0l-3.0 -3.0zM530.9 109.0l3.0 3.0l-3.0 3.0l-3.0 -3.0zM531.8 109.0l3.0 3.0l-3.0 3.0l-3.0 -3.0zM532.7 109.0l3.0 3.0l-3.0 3.0l-3.0 -3.0zM533.6 109.0l3.0 3.0l-3.0 3.0l-3.0 -3.0zM534.5 109.2l3.0 3.0l-3.0 3.0l-3.0 -3.0zM535.3 109.0l3.0 3.0l-3.0 3.0l-3.0 -3.0zM536.2 109.2l3.0 3.0l-3.0 3.0l-3.0 -3.0zM537.1 109.2l3.0 3.0l-3.0 3.0l-3.0 -3.0z"/>
<path fill="none" stroke="#0000ff" stroke-width="1.2" d="M335.0 112.0L336.0 112.0L337.0 112.0L338.0 112.0L339.0 111.9L340.0 111.9L341.0 111.9L342.0 111.9L343.0 111.9L344.0 111.9L345.0 111.9L346.0 111.8L347.0 111.8L348.0 111.8L349.0 111.8L350.0 111.7L351.0 111.7L352.0 111.7L353.0 111.7L354.0 111.6L355.0 111.6L356.0 111.6L357.0 111.6L358.0 111.5L359.0 111.5L360.0 111.5L361.0 111.4L362.0 111.4L363.0 111.4L364.0 111.3L365.0 111.3L366.0 111.3L367.0 111.2L368.0 111.2L369.0 111.1L370.0 111.1L371.0 111.1L372.0 111.0L373.0 111.0L374.0 111.0L375.0 111.0L376.0 111.0L377.0 111.0L378.0 110.9L379.0 110.9L380.0 110.8L381.0 110.7L382.0 110.6L383.0 110.6L384.0 110.5L385.0 110.4L386.0 110.3L387.0 110.2L388.0 110.1L389.0 110.0L390.0 109.9L391.0 109.7L392.0 109.5L393.0 109.3L394.0 109.1L395.0 108.9L396.0 108.7L397.0 108.6L398.0 108.4L399.0 108.2L400.0 108.0L401.0 107.8L402.0 107.6L403.0 107.4L404.0 107.1L405.0 106.8L406.0 106.6L407.0 106.2L408.0 105.9L409.0 105.5L410.0 105.1L411.0 104.6L412.0 104.0L413.0 103.4L414.0 102.6L415.0 101.8L416.0 100.9L417.0 99.8L418.0 98.6L419.0 97.3L420.0 95.8L421.0 94.2L422.0 92.4L423.0 90.4L424.0 88.2L425.0 85.8L426.0 83.1L427.0 80.2L428.0 77.2L429.0 73.8L430.0 70.3L431.0 66.5L432.0 62.5L433.0 58.3L434.0 53.9L435.0 49.5L436.0 44.9L437.0 40.4L438.0 35.9L439.0 31.5L440.0 27.4L441.0 23.5L442.0 20.0L443.0 16.8L444.0 14.1L445.0 11.8L446.0 10.0L447.0 8.7L448.0 7.9L449.0 7.7L450.0 7.8L451.0 8.9L452.0 10.7L453.0 13.1L454.0 16.1L455.0 19.5L456.0 23.4L457.0 27.6L458.0 32.0L459.0 36.6L460.0 41.3L461.0 46.0L462.0 50.7L463.0 55.3L464.0 59.8L465.0 64.1L466.0 68.2L467.0 72.1L468.0 75.9L469.0 79.4L470.0 82.7L471.0 85.7L472.0 88.6L473.0 91.2L474.0 93.6L475.0 95.8L476.0 97.8L477.0 99.5L478.0 101.1L479.0 102.5L480.0 103.7L481.0 104.8L482.0 105.7L483.0 106.5L484.0 107.3L485.0 107.9L486.0 108.5L487.0 109.0L488.0 109.4L489.0 109.7L490.0 110.1L491.0 110.3L492.0 110.6L493.0 110.8L494.0 111.0L495.0 111.2L496.0 111.3L497.0 111.4L498.0 111.5L499.0 111.6L500.0 111.7L501.0 111.8L502.0 111.8L503.0 111.9L504.0 111.9L505.0 112.0L506.0 112.1L507.0 112.1L508.0 112.2L509.0 112.2L510.0 112.3L511.0 112.3L512.0 112.4L513.0 112.4L514.0 112.5L515.0 112.6L516.0 112.7L517.0 112.7L518.0 112.8L519.0 112.8L520.0 112.8L521.0 112.9L522.0 112.9L523.0 112.9L524.0 113.0L525.0 113.0L526.0 113.0L527.0 113.1L528.0 113.1L529.0 113.1L530.0 113.1L531.0 113.1L532.0 113.1L533.0 113.1L534.0 113.1L535.0 113.1L536.0 113.2L537.0 113.2"/>
<path fill="none" stroke="#000" stroke-width="0.8" d="M331.5 257.5L333.0 257.5L334.5 257.5L336.0 257.5L337.5 257.5L339.0 257.5L340.5 257.5L342.0 257.5L343.5 257.5L345.0 257.5L346.5 257.5L348.0 257.5L349.5 257.5L351.0 257.5L352.5 257.5L354.0 257.5L355.5 257.5L357.0 257.5L358.5 257.5L360.0 257.5L361.5 257.5L363.0 257.5L364.5 257.5L366.0 257.5L367.5 257.5L369.0 257.5L370.5 257.5L372.0 257.5L373.5 257.5L375.0 257.5L376.5 257.5L378.0 257.5L379.5 257.5L381.0 257.4L382.5 257.4L384.0 257.4L385.5 257.3L387.0 257.2L388.5 257.1L390.0 257.0L391.5 256.8L393.0 256.6L394.5 256.3L396.0 256.0L397.5 255.6L399.0 255.2L400.5 254.6L402.0 254.1L403.5 253.4L405.0 252.7L406.5 252.0L408.0 251.3L409.5 250.5L411.0 249.8L412.5 249.2L414.0 248.6L415.5 248.1L417.0 247.8L418.5 247.6L420.0 247.5L421.5 247.6L423.0 247.8L424.5 248.1L426.0 248.6L427.5 249.2L429.0 249.8L430.5 250.5L432.0 251.3L433.5 252.0L435.0 252.7L436.5 253.4L438.0 254.1L439.5 254.6L441.0 255.2L442.5 255.6L444.0 256.0L445.5 256.3L447.0 256.6L448.5 256.8L450.0 257.0L451.5 257.1L453.0 257.2L454.5 257.3L456.0 257.4L457.5 257.4L459.0 257.4L460.5 257.5L462.0 257.5L463.5 257.5L465.0 257.5L466.5 257.5L468.0 257.5L469.5 257.5L471.0 257.5L472.5 257.5L474.0 257.5L475.5 257.5L477.0 257.5L478.5 257.5L480.0 257.5L481.5 257.5L483.0 257.5L484.5 257.5L486.0 257.5L487.5 257.5L489.0 257.5L490.5 257.5L492.0 257.5L493.5 257.5L495.0 257.5L496.5 257.5L498.0 257.5L499.5 257.5L501.0 257.5L502.5 257.5L504.0 257.5L505.5 257.5L507.0 257.5L508.5 257.5L510.0 257.5L511.5 257.5L513.0 257.5L514.5 257.5L516.0 257.5L517.5 257.5L519.0 257.5L520.5 257.5L522.0 257.5L523.5 257.5L525.0 257.5L526.5 257.5L528.0 257.5L529.5 257.5L531.0 257.5L532.5 257.5L534.0 257.5L535.5 257.5L537.0 257.5"/>
<path fill="none" stroke="#000" stroke-width="0.8" d="M331.5 257.5H538"/>
<path d="M327.6 8V260.2H538.2" fill="none" stroke="#000" stroke-width="1.25"/>
<path d="M360.6 260.2v7.5M395.9 260.2v7.5M431.2 260.2v7.5M466.5 260.2v7.5M501.8 260.2v7.5M537.1 260.2v7.5" fill="none" stroke="#000" stroke-width="1.25"/>
<text x="360.9" y="280.5" font-size="10" text-anchor="middle">538</text>
<text x="396.2" y="280.5" font-size="10" text-anchor="middle">536</text>
<text x="431.5" y="280.5" font-size="10" text-anchor="middle">534</text>
<text x="466.8" y="280.5" font-size="10" text-anchor="middle">532</text>
<text x="502.1" y="280.5" font-size="10" text-anchor="middle">530</text>
<text x="537.4" y="280.5" font-size="10" text-anchor="middle">528</text>
<text x="434.7" y="293.5" font-size="12" font-weight="bold" text-anchor="middle" textLength="112.7" lengthAdjust="spacingAndGlyphs">Binding energy (eV)</text>
<text transform="translate(308.6 126.4) rotate(-90)" font-size="12" font-weight="bold" text-anchor="middle" textLength="82" lengthAdjust="spacingAndGlyphs">Intensity (a.u.)</text>
<text x="306.4" y="19.4" font-size="12">d.</text>
<text x="354.2" y="33.4" font-size="16" font-weight="bold">O 1s</text>
<path fill="#0b9748" d="M474.6 13.9l3.6 3.6l-3.6 3.6l-3.6 -3.6z"/>
<text x="486.4" y="20.9" font-size="10.15">SBA-NBDPD</text>
<path fill="#0000ff" d="M474.6 23.8l3.6 3.6l-3.6 3.6l-3.6 -3.6z"/>
<text x="486.4" y="30.8" font-size="10.15">SBA-NBDH</text>
<path fill="#ff0000" d="M474.6 33.9l3.6 3.6l-3.6 3.6l-3.6 -3.6z"/>
<text x="486.4" y="40.9" font-size="10.15">SBA-Cl</text>
<path fill="#2b2b2b" d="M474.6 44.4l3.6 3.6l-3.6 3.6l-3.6 -3.6z"/>
<text x="486.4" y="51.4" font-size="10.15">SBA15</text>
</g></svg></body></html>
